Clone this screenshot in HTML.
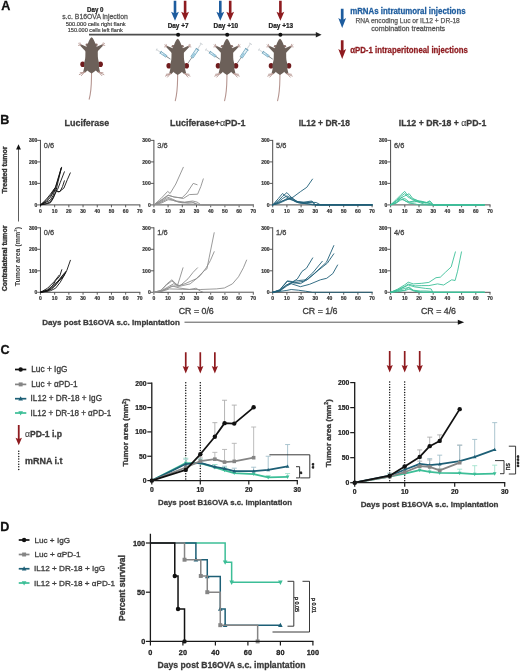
<!DOCTYPE html>
<html lang="en"><head><meta charset="utf-8"><title>Figure</title>
<style>html,body{margin:0;padding:0;background:#fff}svg{display:block;filter:blur(0.4px)}text{font-family:'Liberation Sans', sans-serif}</style>
</head><body>
<svg width="520" height="671" viewBox="0 0 520 671">
<rect width="520" height="671" fill="#fff"/>
<text x="1.3" y="9.9" font-size="12.6" font-weight="bold" fill="#111" stroke="#111" stroke-width="0.28" text-anchor="start" >A</text>
<text x="87.1" y="11.6" font-size="6.6" font-weight="bold" fill="#222" stroke="#222" stroke-width="0.23" text-anchor="start" textLength="16.4" lengthAdjust="spacingAndGlyphs" >Day 0</text>
<text x="62.2" y="19.4" font-size="6.9" font-weight="normal" fill="#555" stroke="#555" stroke-width="0.26" text-anchor="start" textLength="65.6" lengthAdjust="spacingAndGlyphs" >s.c. B16OVA injection</text>
<text x="65.7" y="26" font-size="5.7" font-weight="normal" fill="#444" stroke="#444" stroke-width="0.21" text-anchor="start" textLength="60" lengthAdjust="spacingAndGlyphs" >500.000 cells right flank</text>
<text x="67.7" y="32" font-size="5.6" font-weight="normal" fill="#444" stroke="#444" stroke-width="0.21" text-anchor="start" textLength="55.1" lengthAdjust="spacingAndGlyphs" >150.000 cells left flank</text>
<line x1="89" y1="34.7" x2="317" y2="34.7" stroke="#4d4d4d" stroke-width="1.7"/>
<path d="M315.8,32 L321.6,34.7 L315.8,37.4 Z" fill="#222"/>
<circle cx="178.1" cy="34.7" r="2" fill="#111"/>
<circle cx="227.2" cy="34.7" r="2" fill="#111"/>
<circle cx="280.4" cy="34.7" r="2" fill="#111"/>
<text x="167.7" y="28.2" font-size="6.9" font-weight="bold" fill="#222" stroke="#222" stroke-width="0.24" text-anchor="start" textLength="20.8" lengthAdjust="spacingAndGlyphs" >Day +7</text>
<text x="213.5" y="28.2" font-size="6.9" font-weight="bold" fill="#222" stroke="#222" stroke-width="0.24" text-anchor="start" textLength="24.6" lengthAdjust="spacingAndGlyphs" >Day +10</text>
<text x="268.5" y="28.2" font-size="6.9" font-weight="bold" fill="#222" stroke="#222" stroke-width="0.24" text-anchor="start" textLength="24.6" lengthAdjust="spacingAndGlyphs" >Day +13</text>
<path d="M173.7,0.8 H176.3 V13.00 L178.9,11.80 L175,20.8 L171.1,11.80 L173.7,13.00 Z" fill="#1d5c9e"/>
<path d="M183.79999999999998,0.8 H186.4 V13.00 L189.0,11.80 L185.1,20.8 L181.2,11.80 L183.79999999999998,13.00 Z" fill="#8e1b1f"/>
<path d="M219.0,0.8 H221.60000000000002 V13.00 L224.20000000000002,11.80 L220.3,20.8 L216.4,11.80 L219.0,13.00 Z" fill="#1d5c9e"/>
<path d="M228.89999999999998,0.8 H231.5 V13.00 L234.1,11.80 L230.2,20.8 L226.29999999999998,11.80 L228.89999999999998,13.00 Z" fill="#8e1b1f"/>
<path d="M279.09999999999997,0.8 H281.7 V13.00 L284.29999999999995,11.80 L280.4,20.8 L276.5,11.80 L279.09999999999997,13.00 Z" fill="#8e1b1f"/>
<g transform="translate(91.6,37.2)">
<path d="M0,34 C-0.3,44 0.3,52 -2.4,62" stroke="#b59590" stroke-width="1.1" fill="none" stroke-linecap="round"/>
<path d="M-4,10 L-10.8,7 L-11.6,8.4 L-5.4,14.8 Z" fill="#6c6059"/>
<path d="M4,10 L10.8,7 L11.6,8.4 L5.4,14.8 Z" fill="#6c6059"/>
<path d="M-11,7.8 L-13,6.2 M-11,7.8 L-13.2,8.2 M-11,7.8 L-11.6,5.6" stroke="#b59590" stroke-width="0.8" stroke-linecap="round"/>
<path d="M11,7.8 L13,6.2 M11,7.8 L13.2,8.2 M11,7.8 L11.6,5.6" stroke="#b59590" stroke-width="0.8" stroke-linecap="round"/>
<path d="M-6.6,27 L-4,33 L-6.6,35.6 L-8.4,34.6 Z" fill="#6c6059"/>
<path d="M6.6,27 L4,33 L6.6,35.6 L8.4,34.6 Z" fill="#6c6059"/>
<path d="M-7.2,35 L-12.3,37.4 M-7.2,35 L-11.4,35.6 M-7.2,35 L-10.2,38.4" stroke="#b59590" stroke-width="0.9" stroke-linecap="round"/>
<path d="M7.2,35 L12.3,37.4 M7.2,35 L11.4,35.6 M7.2,35 L10.2,38.4" stroke="#b59590" stroke-width="0.9" stroke-linecap="round"/>
<ellipse cx="-8.9" cy="27" rx="2.4" ry="2.8" fill="#701c1e"/>
<ellipse cx="8.9" cy="27" rx="2.4" ry="2.8" fill="#701c1e"/>
<ellipse cx="-4.6" cy="7.6" rx="1.5" ry="1.2" fill="#8a6f69"/>
<ellipse cx="4.6" cy="7.6" rx="1.5" ry="1.2" fill="#8a6f69"/>
<path d="M0,0 C1.4,0.8 2.6,3 3.6,6 C4.4,8.2 5.8,10 6.1,13 C6.3,16 6.1,18.5 6.4,21 C6.7,23.5 7.7,25.5 7.6,28.3 C7.3,31.6 2.8,34.6 0,36.4 C-2.8,34.6 -7.3,31.6 -7.6,28.3 C-7.7,25.5 -6.7,23.5 -6.4,21 C-6.1,18.5 -6.3,16 -6.1,13 C-5.8,10 -4.4,8.2 -3.6,6 C-2.6,3 -1.4,0.8 0,0 Z" fill="#6c6059"/>
</g>
<g transform="translate(177.7,38.7)">
<path d="M0,34 C-0.3,44 0.3,52 -2.4,62" stroke="#b59590" stroke-width="1.1" fill="none" stroke-linecap="round"/>
<path d="M-4,10 L-10.8,7 L-11.6,8.4 L-5.4,14.8 Z" fill="#6c6059"/>
<path d="M4,10 L10.8,7 L11.6,8.4 L5.4,14.8 Z" fill="#6c6059"/>
<path d="M-11,7.8 L-13,6.2 M-11,7.8 L-13.2,8.2 M-11,7.8 L-11.6,5.6" stroke="#b59590" stroke-width="0.8" stroke-linecap="round"/>
<path d="M11,7.8 L13,6.2 M11,7.8 L13.2,8.2 M11,7.8 L11.6,5.6" stroke="#b59590" stroke-width="0.8" stroke-linecap="round"/>
<path d="M-6.6,27 L-4,33 L-6.6,35.6 L-8.4,34.6 Z" fill="#6c6059"/>
<path d="M6.6,27 L4,33 L6.6,35.6 L8.4,34.6 Z" fill="#6c6059"/>
<path d="M-7.2,35 L-12.3,37.4 M-7.2,35 L-11.4,35.6 M-7.2,35 L-10.2,38.4" stroke="#b59590" stroke-width="0.9" stroke-linecap="round"/>
<path d="M7.2,35 L12.3,37.4 M7.2,35 L11.4,35.6 M7.2,35 L10.2,38.4" stroke="#b59590" stroke-width="0.9" stroke-linecap="round"/>
<ellipse cx="-8.9" cy="27" rx="2.4" ry="2.8" fill="#701c1e"/>
<ellipse cx="8.9" cy="27" rx="2.4" ry="2.8" fill="#701c1e"/>
<ellipse cx="-4.6" cy="7.6" rx="1.5" ry="1.2" fill="#8a6f69"/>
<ellipse cx="4.6" cy="7.6" rx="1.5" ry="1.2" fill="#8a6f69"/>
<path d="M0,0 C1.4,0.8 2.6,3 3.6,6 C4.4,8.2 5.8,10 6.1,13 C6.3,16 6.1,18.5 6.4,21 C6.7,23.5 7.7,25.5 7.6,28.3 C7.3,31.6 2.8,34.6 0,36.4 C-2.8,34.6 -7.3,31.6 -7.6,28.3 C-7.7,25.5 -6.7,23.5 -6.4,21 C-6.1,18.5 -6.3,16 -6.1,13 C-5.8,10 -4.4,8.2 -3.6,6 C-2.6,3 -1.4,0.8 0,0 Z" fill="#6c6059"/>
</g>
<g transform="translate(156.30,49.30) rotate(35.15)">
<rect x="0" y="-1.14" width="0.9" height="2.28" fill="#c9ced2"/>
<rect x="0.9" y="-0.5" width="4.69" height="1" fill="#d5dadd"/>
<rect x="4.86" y="-1.52" width="0.9" height="3.04" fill="#7fa6ba"/>
<rect x="5.38" y="-0.95" width="6.95" height="1.90" fill="#e2f0f6" stroke="#5b98b3" stroke-width="0.65"/>
<rect x="8.68" y="-0.57" width="3.30" height="1.14" fill="#9bcbe0"/>
<rect x="12.33" y="-0.35" width="5.04" height="0.7" fill="#70767a"/>
</g>
<g transform="translate(201.50,43.30) rotate(124.29)">
<rect x="0" y="-1.56" width="0.9" height="3.12" fill="#c9ced2"/>
<rect x="0.9" y="-0.5" width="6.47" height="1" fill="#d5dadd"/>
<rect x="6.71" y="-2.08" width="0.9" height="4.16" fill="#7fa6ba"/>
<rect x="7.43" y="-1.30" width="9.59" height="2.60" fill="#e2f0f6" stroke="#5b98b3" stroke-width="0.65"/>
<rect x="11.98" y="-0.78" width="4.55" height="1.56" fill="#9bcbe0"/>
<rect x="17.01" y="-0.35" width="6.95" height="0.7" fill="#70767a"/>
</g>
<g transform="translate(227,38.7)">
<path d="M0,34 C-0.3,44 0.3,52 -2.4,62" stroke="#b59590" stroke-width="1.1" fill="none" stroke-linecap="round"/>
<path d="M-4,10 L-10.8,7 L-11.6,8.4 L-5.4,14.8 Z" fill="#6c6059"/>
<path d="M4,10 L10.8,7 L11.6,8.4 L5.4,14.8 Z" fill="#6c6059"/>
<path d="M-11,7.8 L-13,6.2 M-11,7.8 L-13.2,8.2 M-11,7.8 L-11.6,5.6" stroke="#b59590" stroke-width="0.8" stroke-linecap="round"/>
<path d="M11,7.8 L13,6.2 M11,7.8 L13.2,8.2 M11,7.8 L11.6,5.6" stroke="#b59590" stroke-width="0.8" stroke-linecap="round"/>
<path d="M-6.6,27 L-4,33 L-6.6,35.6 L-8.4,34.6 Z" fill="#6c6059"/>
<path d="M6.6,27 L4,33 L6.6,35.6 L8.4,34.6 Z" fill="#6c6059"/>
<path d="M-7.2,35 L-12.3,37.4 M-7.2,35 L-11.4,35.6 M-7.2,35 L-10.2,38.4" stroke="#b59590" stroke-width="0.9" stroke-linecap="round"/>
<path d="M7.2,35 L12.3,37.4 M7.2,35 L11.4,35.6 M7.2,35 L10.2,38.4" stroke="#b59590" stroke-width="0.9" stroke-linecap="round"/>
<ellipse cx="-8.9" cy="27" rx="2.4" ry="2.8" fill="#701c1e"/>
<ellipse cx="8.9" cy="27" rx="2.4" ry="2.8" fill="#701c1e"/>
<ellipse cx="-4.6" cy="7.6" rx="1.5" ry="1.2" fill="#8a6f69"/>
<ellipse cx="4.6" cy="7.6" rx="1.5" ry="1.2" fill="#8a6f69"/>
<path d="M0,0 C1.4,0.8 2.6,3 3.6,6 C4.4,8.2 5.8,10 6.1,13 C6.3,16 6.1,18.5 6.4,21 C6.7,23.5 7.7,25.5 7.6,28.3 C7.3,31.6 2.8,34.6 0,36.4 C-2.8,34.6 -7.3,31.6 -7.6,28.3 C-7.7,25.5 -6.7,23.5 -6.4,21 C-6.1,18.5 -6.3,16 -6.1,13 C-5.8,10 -4.4,8.2 -3.6,6 C-2.6,3 -1.4,0.8 0,0 Z" fill="#6c6059"/>
</g>
<g transform="translate(205.60,49.30) rotate(35.15)">
<rect x="0" y="-1.14" width="0.9" height="2.28" fill="#c9ced2"/>
<rect x="0.9" y="-0.5" width="4.69" height="1" fill="#d5dadd"/>
<rect x="4.86" y="-1.52" width="0.9" height="3.04" fill="#7fa6ba"/>
<rect x="5.38" y="-0.95" width="6.95" height="1.90" fill="#e2f0f6" stroke="#5b98b3" stroke-width="0.65"/>
<rect x="8.68" y="-0.57" width="3.30" height="1.14" fill="#9bcbe0"/>
<rect x="12.33" y="-0.35" width="5.04" height="0.7" fill="#70767a"/>
</g>
<g transform="translate(250.80,43.30) rotate(124.29)">
<rect x="0" y="-1.56" width="0.9" height="3.12" fill="#c9ced2"/>
<rect x="0.9" y="-0.5" width="6.47" height="1" fill="#d5dadd"/>
<rect x="6.71" y="-2.08" width="0.9" height="4.16" fill="#7fa6ba"/>
<rect x="7.43" y="-1.30" width="9.59" height="2.60" fill="#e2f0f6" stroke="#5b98b3" stroke-width="0.65"/>
<rect x="11.98" y="-0.78" width="4.55" height="1.56" fill="#9bcbe0"/>
<rect x="17.01" y="-0.35" width="6.95" height="0.7" fill="#70767a"/>
</g>
<g transform="translate(280,38.7)">
<path d="M0,34 C-0.3,44 0.3,52 -2.4,62" stroke="#b59590" stroke-width="1.1" fill="none" stroke-linecap="round"/>
<path d="M-4,10 L-10.8,7 L-11.6,8.4 L-5.4,14.8 Z" fill="#6c6059"/>
<path d="M4,10 L10.8,7 L11.6,8.4 L5.4,14.8 Z" fill="#6c6059"/>
<path d="M-11,7.8 L-13,6.2 M-11,7.8 L-13.2,8.2 M-11,7.8 L-11.6,5.6" stroke="#b59590" stroke-width="0.8" stroke-linecap="round"/>
<path d="M11,7.8 L13,6.2 M11,7.8 L13.2,8.2 M11,7.8 L11.6,5.6" stroke="#b59590" stroke-width="0.8" stroke-linecap="round"/>
<path d="M-6.6,27 L-4,33 L-6.6,35.6 L-8.4,34.6 Z" fill="#6c6059"/>
<path d="M6.6,27 L4,33 L6.6,35.6 L8.4,34.6 Z" fill="#6c6059"/>
<path d="M-7.2,35 L-12.3,37.4 M-7.2,35 L-11.4,35.6 M-7.2,35 L-10.2,38.4" stroke="#b59590" stroke-width="0.9" stroke-linecap="round"/>
<path d="M7.2,35 L12.3,37.4 M7.2,35 L11.4,35.6 M7.2,35 L10.2,38.4" stroke="#b59590" stroke-width="0.9" stroke-linecap="round"/>
<ellipse cx="-8.9" cy="27" rx="2.4" ry="2.8" fill="#701c1e"/>
<ellipse cx="8.9" cy="27" rx="2.4" ry="2.8" fill="#701c1e"/>
<ellipse cx="-4.6" cy="7.6" rx="1.5" ry="1.2" fill="#8a6f69"/>
<ellipse cx="4.6" cy="7.6" rx="1.5" ry="1.2" fill="#8a6f69"/>
<path d="M0,0 C1.4,0.8 2.6,3 3.6,6 C4.4,8.2 5.8,10 6.1,13 C6.3,16 6.1,18.5 6.4,21 C6.7,23.5 7.7,25.5 7.6,28.3 C7.3,31.6 2.8,34.6 0,36.4 C-2.8,34.6 -7.3,31.6 -7.6,28.3 C-7.7,25.5 -6.7,23.5 -6.4,21 C-6.1,18.5 -6.3,16 -6.1,13 C-5.8,10 -4.4,8.2 -3.6,6 C-2.6,3 -1.4,0.8 0,0 Z" fill="#6c6059"/>
</g>
<g transform="translate(258.60,49.30) rotate(35.15)">
<rect x="0" y="-1.14" width="0.9" height="2.28" fill="#c9ced2"/>
<rect x="0.9" y="-0.5" width="4.69" height="1" fill="#d5dadd"/>
<rect x="4.86" y="-1.52" width="0.9" height="3.04" fill="#7fa6ba"/>
<rect x="5.38" y="-0.95" width="6.95" height="1.90" fill="#e2f0f6" stroke="#5b98b3" stroke-width="0.65"/>
<rect x="8.68" y="-0.57" width="3.30" height="1.14" fill="#9bcbe0"/>
<rect x="12.33" y="-0.35" width="5.04" height="0.7" fill="#70767a"/>
</g>
<path d="M340.84999999999997,8.7 H343.55 V19.40 L346.09999999999997,18.10 L342.2,28.1 L338.3,18.10 L340.84999999999997,19.40 Z" fill="#1d5c9e"/>
<path d="M340.84999999999997,40.2 H343.55 V50.40 L346.09999999999997,49.10 L342.2,59.1 L338.3,49.10 L340.84999999999997,50.40 Z" fill="#8e1b1f"/>
<text x="350.2" y="14.4" font-size="8.5" font-weight="bold" fill="#1d5c9e" stroke="#1d5c9e" stroke-width="0.28" text-anchor="start" textLength="115.4" lengthAdjust="spacingAndGlyphs" >mRNAs intratumoral injections</text>
<text x="355.4" y="23" font-size="6.6" font-weight="normal" fill="#555" stroke="#555" stroke-width="0.25" text-anchor="start" textLength="104.4" lengthAdjust="spacingAndGlyphs" >RNA encoding Luc or IL12 + DR-18</text>
<text x="371.2" y="30.6" font-size="6.9" font-weight="normal" fill="#555" stroke="#555" stroke-width="0.26" text-anchor="start" textLength="74" lengthAdjust="spacingAndGlyphs" >combination treatments</text>
<text x="350.2" y="52.6" font-size="8.5" font-weight="bold" fill="#8e1b1f" stroke="#8e1b1f" stroke-width="0.28" text-anchor="start" textLength="117.7" lengthAdjust="spacingAndGlyphs" >αPD-1 intraperitoneal injections</text>
<text x="0.3" y="124.4" font-size="12.6" font-weight="bold" fill="#111" stroke="#111" stroke-width="0.28" text-anchor="start" >B</text>
<text x="64.5" y="125.6" font-size="8.8" font-weight="bold" fill="#3a3a3a" stroke="#3a3a3a" stroke-width="0.28" text-anchor="start" textLength="44.75" lengthAdjust="spacingAndGlyphs" >Luciferase</text>
<text x="170" y="125.6" font-size="8.8" font-weight="bold" fill="#3a3a3a" stroke="#3a3a3a" stroke-width="0.28" text-anchor="start" textLength="75.5" lengthAdjust="spacingAndGlyphs" >Luciferase+<tspan font-weight="normal" stroke-width="0.1">α</tspan>PD-1</text>
<text x="298.75" y="125.6" font-size="8.8" font-weight="bold" fill="#3a3a3a" stroke="#3a3a3a" stroke-width="0.28" text-anchor="start" textLength="51.25" lengthAdjust="spacingAndGlyphs" >IL12 + DR-18</text>
<text x="398.75" y="125.6" font-size="8.8" font-weight="bold" fill="#3a3a3a" stroke="#3a3a3a" stroke-width="0.28" text-anchor="start" textLength="87.5" lengthAdjust="spacingAndGlyphs" >IL12 + DR-18 + <tspan font-weight="normal" stroke-width="0.1">α</tspan>PD-1</text>
<text transform="translate(6.9,169.9) rotate(-90)" font-size="7" font-weight="bold" fill="#333" stroke="#333" stroke-width="0.35" text-anchor="middle" textLength="47" lengthAdjust="spacingAndGlyphs">Treated tumor</text>
<text transform="translate(7.0,258.4) rotate(-90)" font-size="7" font-weight="bold" fill="#333" stroke="#333" stroke-width="0.35" text-anchor="middle" textLength="65.75" lengthAdjust="spacingAndGlyphs">Contralateral tumor</text>
<text transform="translate(20,256.6) rotate(-90)" font-size="7" font-weight="bold" fill="#3a3a3a" text-anchor="middle" textLength="59.5" lengthAdjust="spacingAndGlyphs">Tumor area (mm<tspan font-size="4.4" dy="-2.6">2</tspan><tspan dy="2.6">)</tspan></text>
<line x1="18.5" y1="221.5" x2="18.5" y2="149" stroke="#333" stroke-width="0.8"/>
<path d="M16.1,149.6 L18.5,144.2 L20.9,149.6 Z" fill="#111"/>
<path d="M40.45,139.9 V204.9 H140.35000000000002" stroke="#4a4a4a" stroke-width="1" fill="none"/>
<line x1="40.45" y1="204.9" x2="40.45" y2="207.3" stroke="#4a4a4a" stroke-width="0.9"/>
<text x="40.45" y="212.8" font-size="5" font-weight="bold" fill="#333" stroke="#333" stroke-width="0.18" text-anchor="middle" >0</text>
<line x1="54.65" y1="204.9" x2="54.65" y2="207.3" stroke="#4a4a4a" stroke-width="0.9"/>
<text x="54.65" y="212.8" font-size="5" font-weight="bold" fill="#333" stroke="#333" stroke-width="0.18" text-anchor="middle" >10</text>
<line x1="68.85" y1="204.9" x2="68.85" y2="207.3" stroke="#4a4a4a" stroke-width="0.9"/>
<text x="68.85" y="212.8" font-size="5" font-weight="bold" fill="#333" stroke="#333" stroke-width="0.18" text-anchor="middle" >20</text>
<line x1="83.05" y1="204.9" x2="83.05" y2="207.3" stroke="#4a4a4a" stroke-width="0.9"/>
<text x="83.05" y="212.8" font-size="5" font-weight="bold" fill="#333" stroke="#333" stroke-width="0.18" text-anchor="middle" >30</text>
<line x1="97.25" y1="204.9" x2="97.25" y2="207.3" stroke="#4a4a4a" stroke-width="0.9"/>
<text x="97.25" y="212.8" font-size="5" font-weight="bold" fill="#333" stroke="#333" stroke-width="0.18" text-anchor="middle" >40</text>
<line x1="111.45" y1="204.9" x2="111.45" y2="207.3" stroke="#4a4a4a" stroke-width="0.9"/>
<text x="111.45" y="212.8" font-size="5" font-weight="bold" fill="#333" stroke="#333" stroke-width="0.18" text-anchor="middle" >50</text>
<line x1="125.65" y1="204.9" x2="125.65" y2="207.3" stroke="#4a4a4a" stroke-width="0.9"/>
<text x="125.65" y="212.8" font-size="5" font-weight="bold" fill="#333" stroke="#333" stroke-width="0.18" text-anchor="middle" >60</text>
<line x1="139.85" y1="204.9" x2="139.85" y2="207.3" stroke="#4a4a4a" stroke-width="0.9"/>
<text x="139.85" y="212.8" font-size="5" font-weight="bold" fill="#333" stroke="#333" stroke-width="0.18" text-anchor="middle" >70</text>
<line x1="37.25" y1="204.90" x2="40.45" y2="204.90" stroke="#4a4a4a" stroke-width="0.9"/>
<text x="37.25" y="206.70" font-size="5" font-weight="bold" fill="#333" stroke="#333" stroke-width="0.18" text-anchor="end" >0</text>
<line x1="37.25" y1="183.40" x2="40.45" y2="183.40" stroke="#4a4a4a" stroke-width="0.9"/>
<text x="37.25" y="185.20" font-size="5" font-weight="bold" fill="#333" stroke="#333" stroke-width="0.18" text-anchor="end" >100</text>
<line x1="37.25" y1="161.90" x2="40.45" y2="161.90" stroke="#4a4a4a" stroke-width="0.9"/>
<text x="37.25" y="163.70" font-size="5" font-weight="bold" fill="#333" stroke="#333" stroke-width="0.18" text-anchor="end" >200</text>
<line x1="37.25" y1="140.40" x2="40.45" y2="140.40" stroke="#4a4a4a" stroke-width="0.9"/>
<text x="37.25" y="142.20" font-size="5" font-weight="bold" fill="#333" stroke="#333" stroke-width="0.18" text-anchor="end" >300</text>
<path d="M40.5,204.9 L46.1,199.5 L50.4,194.2 L55.4,187.3 L58.2,178.0 L61.5,167.9" stroke="#111111" stroke-width="0.9" fill="none" stroke-linejoin="round" stroke-linecap="round"/>
<path d="M40.5,204.9 L46.1,202.3 L50.4,200.2 L53.2,195.2 L55.6,187.7 L58.2,179.1 L61.0,168.4" stroke="#111111" stroke-width="0.9" fill="none" stroke-linejoin="round" stroke-linecap="round"/>
<path d="M40.5,204.9 L46.1,204.0 L50.4,202.8 L53.2,198.5 L55.6,192.4 L58.2,181.2 L61.5,167.3" stroke="#111111" stroke-width="0.9" fill="none" stroke-linejoin="round" stroke-linecap="round"/>
<path d="M40.5,204.9 L46.1,200.6 L50.4,195.9 L55.2,187.7 L57.6,189.4 L60.3,182.3 L64.4,171.8" stroke="#111111" stroke-width="0.9" fill="none" stroke-linejoin="round" stroke-linecap="round"/>
<path d="M40.5,204.9 L46.1,201.7 L50.4,197.4 L54.7,189.8 L57.5,190.9 L58.9,192.0 L63.9,188.1 L67.4,179.5 L70.3,172.9" stroke="#111111" stroke-width="0.9" fill="none" stroke-linejoin="round" stroke-linecap="round"/>
<path d="M40.5,204.9 L46.1,203.6 L50.4,201.9 L53.2,197.4 L56.1,191.6 L60.0,191.6 L62.5,186.6 L64.4,180.8" stroke="#111111" stroke-width="0.9" fill="none" stroke-linejoin="round" stroke-linecap="round"/>
<text x="43.85" y="148.0" font-size="7.8" font-weight="normal" fill="#444" stroke="#444" stroke-width="0.29" text-anchor="start" textLength="10.3" lengthAdjust="spacingAndGlyphs" >0/6</text>
<path d="M153.9,139.9 V204.9 H253.8" stroke="#4a4a4a" stroke-width="1" fill="none"/>
<line x1="153.90" y1="204.9" x2="153.90" y2="207.3" stroke="#4a4a4a" stroke-width="0.9"/>
<text x="153.90" y="212.8" font-size="5" font-weight="bold" fill="#333" stroke="#333" stroke-width="0.18" text-anchor="middle" >0</text>
<line x1="168.10" y1="204.9" x2="168.10" y2="207.3" stroke="#4a4a4a" stroke-width="0.9"/>
<text x="168.10" y="212.8" font-size="5" font-weight="bold" fill="#333" stroke="#333" stroke-width="0.18" text-anchor="middle" >10</text>
<line x1="182.30" y1="204.9" x2="182.30" y2="207.3" stroke="#4a4a4a" stroke-width="0.9"/>
<text x="182.30" y="212.8" font-size="5" font-weight="bold" fill="#333" stroke="#333" stroke-width="0.18" text-anchor="middle" >20</text>
<line x1="196.50" y1="204.9" x2="196.50" y2="207.3" stroke="#4a4a4a" stroke-width="0.9"/>
<text x="196.50" y="212.8" font-size="5" font-weight="bold" fill="#333" stroke="#333" stroke-width="0.18" text-anchor="middle" >30</text>
<line x1="210.70" y1="204.9" x2="210.70" y2="207.3" stroke="#4a4a4a" stroke-width="0.9"/>
<text x="210.70" y="212.8" font-size="5" font-weight="bold" fill="#333" stroke="#333" stroke-width="0.18" text-anchor="middle" >40</text>
<line x1="224.90" y1="204.9" x2="224.90" y2="207.3" stroke="#4a4a4a" stroke-width="0.9"/>
<text x="224.90" y="212.8" font-size="5" font-weight="bold" fill="#333" stroke="#333" stroke-width="0.18" text-anchor="middle" >50</text>
<line x1="239.10" y1="204.9" x2="239.10" y2="207.3" stroke="#4a4a4a" stroke-width="0.9"/>
<text x="239.10" y="212.8" font-size="5" font-weight="bold" fill="#333" stroke="#333" stroke-width="0.18" text-anchor="middle" >60</text>
<line x1="253.30" y1="204.9" x2="253.30" y2="207.3" stroke="#4a4a4a" stroke-width="0.9"/>
<text x="253.30" y="212.8" font-size="5" font-weight="bold" fill="#333" stroke="#333" stroke-width="0.18" text-anchor="middle" >70</text>
<line x1="150.70000000000002" y1="204.90" x2="153.9" y2="204.90" stroke="#4a4a4a" stroke-width="0.9"/>
<text x="150.70000000000002" y="206.70" font-size="5" font-weight="bold" fill="#333" stroke="#333" stroke-width="0.18" text-anchor="end" >0</text>
<line x1="150.70000000000002" y1="183.40" x2="153.9" y2="183.40" stroke="#4a4a4a" stroke-width="0.9"/>
<text x="150.70000000000002" y="185.20" font-size="5" font-weight="bold" fill="#333" stroke="#333" stroke-width="0.18" text-anchor="end" >100</text>
<line x1="150.70000000000002" y1="161.90" x2="153.9" y2="161.90" stroke="#4a4a4a" stroke-width="0.9"/>
<text x="150.70000000000002" y="163.70" font-size="5" font-weight="bold" fill="#333" stroke="#333" stroke-width="0.18" text-anchor="end" >200</text>
<line x1="150.70000000000002" y1="140.40" x2="153.9" y2="140.40" stroke="#4a4a4a" stroke-width="0.9"/>
<text x="150.70000000000002" y="142.20" font-size="5" font-weight="bold" fill="#333" stroke="#333" stroke-width="0.18" text-anchor="end" >300</text>
<path d="M153.9,204.9 L161.0,198.5 L167.7,191.4 L170.1,193.5 L175.8,184.0 L183.3,167.3" stroke="#8e8e8e" stroke-width="0.9" fill="none" stroke-linejoin="round" stroke-linecap="round"/>
<path d="M153.9,204.9 L161.0,200.2 L168.1,195.0 L174.5,197.2 L182.0,197.8 L187.0,192.9 L193.2,183.4 L197.1,184.7" stroke="#8e8e8e" stroke-width="0.9" fill="none" stroke-linejoin="round" stroke-linecap="round"/>
<path d="M153.9,204.9 L161.0,200.6 L168.1,195.4 L173.2,196.7 L183.3,198.5 L189.4,194.6 L197.6,194.2 L200.8,186.6 L203.3,178.9" stroke="#8e8e8e" stroke-width="0.9" fill="none" stroke-linejoin="round" stroke-linecap="round"/>
<path d="M153.9,204.9 L161.0,201.5 L167.7,197.2 L170.9,198.5 L176.6,201.0 L184.6,202.1 L192.7,201.0 L197.1,202.1 L200.8,204.7 L202.2,204.9 L253.3,204.9" stroke="#8e8e8e" stroke-width="0.9" fill="none" stroke-linejoin="round" stroke-linecap="round"/>
<path d="M153.9,204.9 L161.0,202.3 L168.1,198.5 L173.8,200.6 L182.0,202.8 L192.0,201.9 L195.8,204.0 L197.9,204.9 L253.3,204.9" stroke="#8e8e8e" stroke-width="0.9" fill="none" stroke-linejoin="round" stroke-linecap="round"/>
<path d="M153.9,204.9 L162.0,202.8 L168.1,199.7 L172.4,200.2 L179.5,202.3 L188.0,203.2 L193.7,202.8 L197.9,204.3 L199.3,204.9 L253.3,204.9" stroke="#8e8e8e" stroke-width="0.9" fill="none" stroke-linejoin="round" stroke-linecap="round"/>
<text x="157.3" y="148.0" font-size="7.8" font-weight="normal" fill="#444" stroke="#444" stroke-width="0.29" text-anchor="start" textLength="10.3" lengthAdjust="spacingAndGlyphs" >3/6</text>
<path d="M272.7,139.9 V204.9 H372.6" stroke="#4a4a4a" stroke-width="1" fill="none"/>
<line x1="272.70" y1="204.9" x2="272.70" y2="207.3" stroke="#4a4a4a" stroke-width="0.9"/>
<text x="272.70" y="212.8" font-size="5" font-weight="bold" fill="#333" stroke="#333" stroke-width="0.18" text-anchor="middle" >0</text>
<line x1="286.90" y1="204.9" x2="286.90" y2="207.3" stroke="#4a4a4a" stroke-width="0.9"/>
<text x="286.90" y="212.8" font-size="5" font-weight="bold" fill="#333" stroke="#333" stroke-width="0.18" text-anchor="middle" >10</text>
<line x1="301.10" y1="204.9" x2="301.10" y2="207.3" stroke="#4a4a4a" stroke-width="0.9"/>
<text x="301.10" y="212.8" font-size="5" font-weight="bold" fill="#333" stroke="#333" stroke-width="0.18" text-anchor="middle" >20</text>
<line x1="315.30" y1="204.9" x2="315.30" y2="207.3" stroke="#4a4a4a" stroke-width="0.9"/>
<text x="315.30" y="212.8" font-size="5" font-weight="bold" fill="#333" stroke="#333" stroke-width="0.18" text-anchor="middle" >30</text>
<line x1="329.50" y1="204.9" x2="329.50" y2="207.3" stroke="#4a4a4a" stroke-width="0.9"/>
<text x="329.50" y="212.8" font-size="5" font-weight="bold" fill="#333" stroke="#333" stroke-width="0.18" text-anchor="middle" >40</text>
<line x1="343.70" y1="204.9" x2="343.70" y2="207.3" stroke="#4a4a4a" stroke-width="0.9"/>
<text x="343.70" y="212.8" font-size="5" font-weight="bold" fill="#333" stroke="#333" stroke-width="0.18" text-anchor="middle" >50</text>
<line x1="357.90" y1="204.9" x2="357.90" y2="207.3" stroke="#4a4a4a" stroke-width="0.9"/>
<text x="357.90" y="212.8" font-size="5" font-weight="bold" fill="#333" stroke="#333" stroke-width="0.18" text-anchor="middle" >60</text>
<line x1="372.10" y1="204.9" x2="372.10" y2="207.3" stroke="#4a4a4a" stroke-width="0.9"/>
<text x="372.10" y="212.8" font-size="5" font-weight="bold" fill="#333" stroke="#333" stroke-width="0.18" text-anchor="middle" >70</text>
<line x1="269.5" y1="204.90" x2="272.7" y2="204.90" stroke="#4a4a4a" stroke-width="0.9"/>
<text x="269.5" y="206.70" font-size="5" font-weight="bold" fill="#333" stroke="#333" stroke-width="0.18" text-anchor="end" >0</text>
<line x1="269.5" y1="183.40" x2="272.7" y2="183.40" stroke="#4a4a4a" stroke-width="0.9"/>
<text x="269.5" y="185.20" font-size="5" font-weight="bold" fill="#333" stroke="#333" stroke-width="0.18" text-anchor="end" >100</text>
<line x1="269.5" y1="161.90" x2="272.7" y2="161.90" stroke="#4a4a4a" stroke-width="0.9"/>
<text x="269.5" y="163.70" font-size="5" font-weight="bold" fill="#333" stroke="#333" stroke-width="0.18" text-anchor="end" >200</text>
<line x1="269.5" y1="140.40" x2="272.7" y2="140.40" stroke="#4a4a4a" stroke-width="0.9"/>
<text x="269.5" y="142.20" font-size="5" font-weight="bold" fill="#333" stroke="#333" stroke-width="0.18" text-anchor="end" >300</text>
<path d="M272.7,204.9 L280.5,201.5 L288.0,199.1 L293.0,197.2 L300.5,191.6 L306.8,187.3 L312.5,179.1" stroke="#1f5f78" stroke-width="0.9" fill="none" stroke-linejoin="round" stroke-linecap="round"/>
<path d="M272.7,204.9 L278.4,198.5 L282.5,193.5 L286.9,197.2 L293.0,200.4 L298.3,202.3 L306.8,202.8 L312.5,201.7 L315.3,204.9 L372.1,204.9" stroke="#1f5f78" stroke-width="0.9" fill="none" stroke-linejoin="round" stroke-linecap="round"/>
<path d="M272.7,204.9 L278.4,200.6 L282.6,196.3 L286.9,192.6 L291.2,197.2 L296.8,201.5 L303.9,202.1 L311.8,201.0 L314.9,204.7 L315.3,204.9 L372.1,204.9" stroke="#1f5f78" stroke-width="0.9" fill="none" stroke-linejoin="round" stroke-linecap="round"/>
<path d="M272.7,204.9 L278.4,201.9 L282.6,198.5 L286.9,195.9 L294.3,199.7 L298.3,201.9 L303.9,202.8 L312.5,202.3 L316.2,202.5 L320.6,204.9 L372.1,204.9" stroke="#1f5f78" stroke-width="0.9" fill="none" stroke-linejoin="round" stroke-linecap="round"/>
<path d="M272.7,204.9 L278.4,203.2 L282.6,201.0 L286.9,198.5 L292.6,200.2 L298.3,202.8 L306.8,203.8 L312.5,204.3 L316.7,204.9 L372.1,204.9" stroke="#1f5f78" stroke-width="0.9" fill="none" stroke-linejoin="round" stroke-linecap="round"/>
<path d="M272.7,204.9 L278.4,203.6 L285.5,200.4 L291.2,198.0 L295.4,201.7 L301.1,203.2 L308.2,203.8 L312.5,204.9 L372.1,204.9" stroke="#1f5f78" stroke-width="0.9" fill="none" stroke-linejoin="round" stroke-linecap="round"/>
<text x="276.09999999999997" y="148.0" font-size="7.8" font-weight="normal" fill="#444" stroke="#444" stroke-width="0.29" text-anchor="start" textLength="10.3" lengthAdjust="spacingAndGlyphs" >5/6</text>
<path d="M390.6,139.9 V204.9 H490.5" stroke="#4a4a4a" stroke-width="1" fill="none"/>
<line x1="390.60" y1="204.9" x2="390.60" y2="207.3" stroke="#4a4a4a" stroke-width="0.9"/>
<text x="390.60" y="212.8" font-size="5" font-weight="bold" fill="#333" stroke="#333" stroke-width="0.18" text-anchor="middle" >0</text>
<line x1="404.80" y1="204.9" x2="404.80" y2="207.3" stroke="#4a4a4a" stroke-width="0.9"/>
<text x="404.80" y="212.8" font-size="5" font-weight="bold" fill="#333" stroke="#333" stroke-width="0.18" text-anchor="middle" >10</text>
<line x1="419.00" y1="204.9" x2="419.00" y2="207.3" stroke="#4a4a4a" stroke-width="0.9"/>
<text x="419.00" y="212.8" font-size="5" font-weight="bold" fill="#333" stroke="#333" stroke-width="0.18" text-anchor="middle" >20</text>
<line x1="433.20" y1="204.9" x2="433.20" y2="207.3" stroke="#4a4a4a" stroke-width="0.9"/>
<text x="433.20" y="212.8" font-size="5" font-weight="bold" fill="#333" stroke="#333" stroke-width="0.18" text-anchor="middle" >30</text>
<line x1="447.40" y1="204.9" x2="447.40" y2="207.3" stroke="#4a4a4a" stroke-width="0.9"/>
<text x="447.40" y="212.8" font-size="5" font-weight="bold" fill="#333" stroke="#333" stroke-width="0.18" text-anchor="middle" >40</text>
<line x1="461.60" y1="204.9" x2="461.60" y2="207.3" stroke="#4a4a4a" stroke-width="0.9"/>
<text x="461.60" y="212.8" font-size="5" font-weight="bold" fill="#333" stroke="#333" stroke-width="0.18" text-anchor="middle" >50</text>
<line x1="475.80" y1="204.9" x2="475.80" y2="207.3" stroke="#4a4a4a" stroke-width="0.9"/>
<text x="475.80" y="212.8" font-size="5" font-weight="bold" fill="#333" stroke="#333" stroke-width="0.18" text-anchor="middle" >60</text>
<line x1="490.00" y1="204.9" x2="490.00" y2="207.3" stroke="#4a4a4a" stroke-width="0.9"/>
<text x="490.00" y="212.8" font-size="5" font-weight="bold" fill="#333" stroke="#333" stroke-width="0.18" text-anchor="middle" >70</text>
<line x1="387.40000000000003" y1="204.90" x2="390.6" y2="204.90" stroke="#4a4a4a" stroke-width="0.9"/>
<text x="387.40000000000003" y="206.70" font-size="5" font-weight="bold" fill="#333" stroke="#333" stroke-width="0.18" text-anchor="end" >0</text>
<line x1="387.40000000000003" y1="183.40" x2="390.6" y2="183.40" stroke="#4a4a4a" stroke-width="0.9"/>
<text x="387.40000000000003" y="185.20" font-size="5" font-weight="bold" fill="#333" stroke="#333" stroke-width="0.18" text-anchor="end" >100</text>
<line x1="387.40000000000003" y1="161.90" x2="390.6" y2="161.90" stroke="#4a4a4a" stroke-width="0.9"/>
<text x="387.40000000000003" y="163.70" font-size="5" font-weight="bold" fill="#333" stroke="#333" stroke-width="0.18" text-anchor="end" >200</text>
<line x1="387.40000000000003" y1="140.40" x2="390.6" y2="140.40" stroke="#4a4a4a" stroke-width="0.9"/>
<text x="387.40000000000003" y="142.20" font-size="5" font-weight="bold" fill="#333" stroke="#333" stroke-width="0.18" text-anchor="end" >300</text>
<path d="M390.6,204.9 L396.3,199.5 L400.5,195.2 L404.7,191.4 L407.6,195.2 L412.8,199.1 L419.0,201.2 L426.1,202.8 L429.7,200.8 L433.2,204.9 L484.3,204.9" stroke="#3dbf98" stroke-width="0.9" fill="none" stroke-linejoin="round" stroke-linecap="round"/>
<path d="M390.6,204.9 L396.3,201.0 L400.5,198.0 L404.8,195.9 L409.1,193.7 L412.8,198.5 L420.4,201.7 L426.1,202.8 L430.4,201.5 L433.2,204.9 L484.3,204.9" stroke="#3dbf98" stroke-width="0.9" fill="none" stroke-linejoin="round" stroke-linecap="round"/>
<path d="M390.6,204.9 L396.3,200.6 L400.5,196.7 L404.8,193.5 L407.6,196.7 L413.3,200.2 L419.0,201.7 L424.7,202.8 L430.4,203.2 L433.2,204.9 L484.3,204.9" stroke="#3dbf98" stroke-width="0.9" fill="none" stroke-linejoin="round" stroke-linecap="round"/>
<path d="M390.6,204.9 L396.3,202.3 L402.0,197.2 L404.8,200.8 L409.1,202.3 L414.7,201.9 L420.4,201.0 L426.1,202.3 L430.4,203.8 L433.2,204.9 L484.3,204.9" stroke="#3dbf98" stroke-width="0.9" fill="none" stroke-linejoin="round" stroke-linecap="round"/>
<path d="M390.6,204.9 L396.3,202.8 L400.5,200.2 L404.8,198.5 L409.1,201.9 L414.7,201.0 L420.4,202.8 L424.7,204.3 L428.9,204.9 L484.3,204.9" stroke="#3dbf98" stroke-width="0.9" fill="none" stroke-linejoin="round" stroke-linecap="round"/>
<path d="M390.6,204.9 L396.3,203.2 L400.5,198.9 L404.8,200.6 L409.1,203.2 L414.7,203.8 L418.6,204.9 L484.3,204.9" stroke="#3dbf98" stroke-width="0.9" fill="none" stroke-linejoin="round" stroke-linecap="round"/>
<text x="394.0" y="148.0" font-size="7.8" font-weight="normal" fill="#444" stroke="#444" stroke-width="0.29" text-anchor="start" textLength="10.3" lengthAdjust="spacingAndGlyphs" >6/6</text>
<path d="M40.45,227.3 V292.3 H140.35000000000002" stroke="#4a4a4a" stroke-width="1" fill="none"/>
<line x1="40.45" y1="292.3" x2="40.45" y2="294.7" stroke="#4a4a4a" stroke-width="0.9"/>
<text x="40.45" y="300.2" font-size="5" font-weight="bold" fill="#333" stroke="#333" stroke-width="0.18" text-anchor="middle" >0</text>
<line x1="54.65" y1="292.3" x2="54.65" y2="294.7" stroke="#4a4a4a" stroke-width="0.9"/>
<text x="54.65" y="300.2" font-size="5" font-weight="bold" fill="#333" stroke="#333" stroke-width="0.18" text-anchor="middle" >10</text>
<line x1="68.85" y1="292.3" x2="68.85" y2="294.7" stroke="#4a4a4a" stroke-width="0.9"/>
<text x="68.85" y="300.2" font-size="5" font-weight="bold" fill="#333" stroke="#333" stroke-width="0.18" text-anchor="middle" >20</text>
<line x1="83.05" y1="292.3" x2="83.05" y2="294.7" stroke="#4a4a4a" stroke-width="0.9"/>
<text x="83.05" y="300.2" font-size="5" font-weight="bold" fill="#333" stroke="#333" stroke-width="0.18" text-anchor="middle" >30</text>
<line x1="97.25" y1="292.3" x2="97.25" y2="294.7" stroke="#4a4a4a" stroke-width="0.9"/>
<text x="97.25" y="300.2" font-size="5" font-weight="bold" fill="#333" stroke="#333" stroke-width="0.18" text-anchor="middle" >40</text>
<line x1="111.45" y1="292.3" x2="111.45" y2="294.7" stroke="#4a4a4a" stroke-width="0.9"/>
<text x="111.45" y="300.2" font-size="5" font-weight="bold" fill="#333" stroke="#333" stroke-width="0.18" text-anchor="middle" >50</text>
<line x1="125.65" y1="292.3" x2="125.65" y2="294.7" stroke="#4a4a4a" stroke-width="0.9"/>
<text x="125.65" y="300.2" font-size="5" font-weight="bold" fill="#333" stroke="#333" stroke-width="0.18" text-anchor="middle" >60</text>
<line x1="139.85" y1="292.3" x2="139.85" y2="294.7" stroke="#4a4a4a" stroke-width="0.9"/>
<text x="139.85" y="300.2" font-size="5" font-weight="bold" fill="#333" stroke="#333" stroke-width="0.18" text-anchor="middle" >70</text>
<line x1="37.25" y1="292.30" x2="40.45" y2="292.30" stroke="#4a4a4a" stroke-width="0.9"/>
<text x="37.25" y="294.10" font-size="5" font-weight="bold" fill="#333" stroke="#333" stroke-width="0.18" text-anchor="end" >0</text>
<line x1="37.25" y1="270.80" x2="40.45" y2="270.80" stroke="#4a4a4a" stroke-width="0.9"/>
<text x="37.25" y="272.60" font-size="5" font-weight="bold" fill="#333" stroke="#333" stroke-width="0.18" text-anchor="end" >100</text>
<line x1="37.25" y1="249.30" x2="40.45" y2="249.30" stroke="#4a4a4a" stroke-width="0.9"/>
<text x="37.25" y="251.10" font-size="5" font-weight="bold" fill="#333" stroke="#333" stroke-width="0.18" text-anchor="end" >200</text>
<line x1="37.25" y1="227.80" x2="40.45" y2="227.80" stroke="#4a4a4a" stroke-width="0.9"/>
<text x="37.25" y="229.60" font-size="5" font-weight="bold" fill="#333" stroke="#333" stroke-width="0.18" text-anchor="end" >300</text>
<path d="M40.5,292.3 L47.6,288.2 L54.2,281.6 L59.1,275.3" stroke="#111111" stroke-width="0.9" fill="none" stroke-linejoin="round" stroke-linecap="round"/>
<path d="M40.5,292.3 L47.6,290.2 L51.8,286.9 L55.6,280.7 L59.6,276.4 L61.8,269.7" stroke="#111111" stroke-width="0.9" fill="none" stroke-linejoin="round" stroke-linecap="round"/>
<path d="M40.5,292.3 L47.6,291.0 L51.8,288.9 L56.1,284.8 L60.3,279.0 L64.4,273.8" stroke="#111111" stroke-width="0.9" fill="none" stroke-linejoin="round" stroke-linecap="round"/>
<path d="M40.5,292.3 L47.6,289.7 L51.8,286.3 L56.1,282.8 L60.3,279.8 L63.2,276.8 L65.6,272.5" stroke="#111111" stroke-width="0.9" fill="none" stroke-linejoin="round" stroke-linecap="round"/>
<path d="M40.5,292.3 L50.4,290.8 L55.6,288.2 L60.0,282.6 L63.9,276.0 L66.9,270.2 L70.4,260.3" stroke="#111111" stroke-width="0.9" fill="none" stroke-linejoin="round" stroke-linecap="round"/>
<path d="M40.5,292.3 L47.6,290.6 L51.8,288.0 L56.1,283.7 L60.3,278.1 L64.6,272.9 L66.0,271.4" stroke="#111111" stroke-width="0.9" fill="none" stroke-linejoin="round" stroke-linecap="round"/>
<text x="43.85" y="235.4" font-size="7.8" font-weight="normal" fill="#444" stroke="#444" stroke-width="0.29" text-anchor="start" textLength="10.3" lengthAdjust="spacingAndGlyphs" >0/6</text>
<path d="M153.9,227.3 V292.3 H253.8" stroke="#4a4a4a" stroke-width="1" fill="none"/>
<line x1="153.90" y1="292.3" x2="153.90" y2="294.7" stroke="#4a4a4a" stroke-width="0.9"/>
<text x="153.90" y="300.2" font-size="5" font-weight="bold" fill="#333" stroke="#333" stroke-width="0.18" text-anchor="middle" >0</text>
<line x1="168.10" y1="292.3" x2="168.10" y2="294.7" stroke="#4a4a4a" stroke-width="0.9"/>
<text x="168.10" y="300.2" font-size="5" font-weight="bold" fill="#333" stroke="#333" stroke-width="0.18" text-anchor="middle" >10</text>
<line x1="182.30" y1="292.3" x2="182.30" y2="294.7" stroke="#4a4a4a" stroke-width="0.9"/>
<text x="182.30" y="300.2" font-size="5" font-weight="bold" fill="#333" stroke="#333" stroke-width="0.18" text-anchor="middle" >20</text>
<line x1="196.50" y1="292.3" x2="196.50" y2="294.7" stroke="#4a4a4a" stroke-width="0.9"/>
<text x="196.50" y="300.2" font-size="5" font-weight="bold" fill="#333" stroke="#333" stroke-width="0.18" text-anchor="middle" >30</text>
<line x1="210.70" y1="292.3" x2="210.70" y2="294.7" stroke="#4a4a4a" stroke-width="0.9"/>
<text x="210.70" y="300.2" font-size="5" font-weight="bold" fill="#333" stroke="#333" stroke-width="0.18" text-anchor="middle" >40</text>
<line x1="224.90" y1="292.3" x2="224.90" y2="294.7" stroke="#4a4a4a" stroke-width="0.9"/>
<text x="224.90" y="300.2" font-size="5" font-weight="bold" fill="#333" stroke="#333" stroke-width="0.18" text-anchor="middle" >50</text>
<line x1="239.10" y1="292.3" x2="239.10" y2="294.7" stroke="#4a4a4a" stroke-width="0.9"/>
<text x="239.10" y="300.2" font-size="5" font-weight="bold" fill="#333" stroke="#333" stroke-width="0.18" text-anchor="middle" >60</text>
<line x1="253.30" y1="292.3" x2="253.30" y2="294.7" stroke="#4a4a4a" stroke-width="0.9"/>
<text x="253.30" y="300.2" font-size="5" font-weight="bold" fill="#333" stroke="#333" stroke-width="0.18" text-anchor="middle" >70</text>
<line x1="150.70000000000002" y1="292.30" x2="153.9" y2="292.30" stroke="#4a4a4a" stroke-width="0.9"/>
<text x="150.70000000000002" y="294.10" font-size="5" font-weight="bold" fill="#333" stroke="#333" stroke-width="0.18" text-anchor="end" >0</text>
<line x1="150.70000000000002" y1="270.80" x2="153.9" y2="270.80" stroke="#4a4a4a" stroke-width="0.9"/>
<text x="150.70000000000002" y="272.60" font-size="5" font-weight="bold" fill="#333" stroke="#333" stroke-width="0.18" text-anchor="end" >100</text>
<line x1="150.70000000000002" y1="249.30" x2="153.9" y2="249.30" stroke="#4a4a4a" stroke-width="0.9"/>
<text x="150.70000000000002" y="251.10" font-size="5" font-weight="bold" fill="#333" stroke="#333" stroke-width="0.18" text-anchor="end" >200</text>
<line x1="150.70000000000002" y1="227.80" x2="153.9" y2="227.80" stroke="#4a4a4a" stroke-width="0.9"/>
<text x="150.70000000000002" y="229.60" font-size="5" font-weight="bold" fill="#333" stroke="#333" stroke-width="0.18" text-anchor="end" >300</text>
<path d="M153.9,292.3 L161.0,291.0 L168.1,286.9 L173.8,283.7 L178.0,285.9 L185.1,283.7 L196.1,278.8 L204.2,270.8 L206.9,268.9 L209.1,257.9 L214.2,232.7" stroke="#8e8e8e" stroke-width="0.9" fill="none" stroke-linejoin="round" stroke-linecap="round"/>
<path d="M153.9,292.3 L161.0,291.2 L168.1,288.0 L173.8,285.9 L179.5,286.3 L190.1,283.9 L200.2,275.7 L206.2,267.8 L210.3,260.7 L214.2,251.7" stroke="#8e8e8e" stroke-width="0.9" fill="none" stroke-linejoin="round" stroke-linecap="round"/>
<path d="M153.9,292.3 L161.0,290.6 L166.7,284.1 L171.9,279.8 L177.5,285.4 L179.9,277.9 L183.0,267.8" stroke="#8e8e8e" stroke-width="0.9" fill="none" stroke-linejoin="round" stroke-linecap="round"/>
<path d="M153.9,292.3 L161.0,290.2 L166.7,284.8 L171.9,280.9 L175.2,283.7 L179.9,285.9 L188.0,278.8 L193.1,272.3 L197.5,267.8" stroke="#8e8e8e" stroke-width="0.9" fill="none" stroke-linejoin="round" stroke-linecap="round"/>
<path d="M153.9,292.3 L161.0,291.7 L169.5,288.9 L182.3,289.3 L200.2,289.5 L216.4,288.9 L224.3,288.0 L232.4,283.9 L238.5,276.8 L243.4,267.8 L246.6,260.1" stroke="#8e8e8e" stroke-width="0.9" fill="none" stroke-linejoin="round" stroke-linecap="round"/>
<path d="M153.9,292.3 L161.0,291.4 L168.1,288.4 L171.9,285.9 L179.5,288.0 L189.4,289.5 L196.1,288.2 L200.2,291.0 L203.6,292.3 L253.3,292.3" stroke="#8e8e8e" stroke-width="0.9" fill="none" stroke-linejoin="round" stroke-linecap="round"/>
<text x="157.3" y="235.4" font-size="7.8" font-weight="normal" fill="#444" stroke="#444" stroke-width="0.29" text-anchor="start" textLength="10.3" lengthAdjust="spacingAndGlyphs" >1/6</text>
<path d="M272.7,227.3 V292.3 H372.6" stroke="#4a4a4a" stroke-width="1" fill="none"/>
<line x1="272.70" y1="292.3" x2="272.70" y2="294.7" stroke="#4a4a4a" stroke-width="0.9"/>
<text x="272.70" y="300.2" font-size="5" font-weight="bold" fill="#333" stroke="#333" stroke-width="0.18" text-anchor="middle" >0</text>
<line x1="286.90" y1="292.3" x2="286.90" y2="294.7" stroke="#4a4a4a" stroke-width="0.9"/>
<text x="286.90" y="300.2" font-size="5" font-weight="bold" fill="#333" stroke="#333" stroke-width="0.18" text-anchor="middle" >10</text>
<line x1="301.10" y1="292.3" x2="301.10" y2="294.7" stroke="#4a4a4a" stroke-width="0.9"/>
<text x="301.10" y="300.2" font-size="5" font-weight="bold" fill="#333" stroke="#333" stroke-width="0.18" text-anchor="middle" >20</text>
<line x1="315.30" y1="292.3" x2="315.30" y2="294.7" stroke="#4a4a4a" stroke-width="0.9"/>
<text x="315.30" y="300.2" font-size="5" font-weight="bold" fill="#333" stroke="#333" stroke-width="0.18" text-anchor="middle" >30</text>
<line x1="329.50" y1="292.3" x2="329.50" y2="294.7" stroke="#4a4a4a" stroke-width="0.9"/>
<text x="329.50" y="300.2" font-size="5" font-weight="bold" fill="#333" stroke="#333" stroke-width="0.18" text-anchor="middle" >40</text>
<line x1="343.70" y1="292.3" x2="343.70" y2="294.7" stroke="#4a4a4a" stroke-width="0.9"/>
<text x="343.70" y="300.2" font-size="5" font-weight="bold" fill="#333" stroke="#333" stroke-width="0.18" text-anchor="middle" >50</text>
<line x1="357.90" y1="292.3" x2="357.90" y2="294.7" stroke="#4a4a4a" stroke-width="0.9"/>
<text x="357.90" y="300.2" font-size="5" font-weight="bold" fill="#333" stroke="#333" stroke-width="0.18" text-anchor="middle" >60</text>
<line x1="372.10" y1="292.3" x2="372.10" y2="294.7" stroke="#4a4a4a" stroke-width="0.9"/>
<text x="372.10" y="300.2" font-size="5" font-weight="bold" fill="#333" stroke="#333" stroke-width="0.18" text-anchor="middle" >70</text>
<line x1="269.5" y1="292.30" x2="272.7" y2="292.30" stroke="#4a4a4a" stroke-width="0.9"/>
<text x="269.5" y="294.10" font-size="5" font-weight="bold" fill="#333" stroke="#333" stroke-width="0.18" text-anchor="end" >0</text>
<line x1="269.5" y1="270.80" x2="272.7" y2="270.80" stroke="#4a4a4a" stroke-width="0.9"/>
<text x="269.5" y="272.60" font-size="5" font-weight="bold" fill="#333" stroke="#333" stroke-width="0.18" text-anchor="end" >100</text>
<line x1="269.5" y1="249.30" x2="272.7" y2="249.30" stroke="#4a4a4a" stroke-width="0.9"/>
<text x="269.5" y="251.10" font-size="5" font-weight="bold" fill="#333" stroke="#333" stroke-width="0.18" text-anchor="end" >200</text>
<line x1="269.5" y1="227.80" x2="272.7" y2="227.80" stroke="#4a4a4a" stroke-width="0.9"/>
<text x="269.5" y="229.60" font-size="5" font-weight="bold" fill="#333" stroke="#333" stroke-width="0.18" text-anchor="end" >300</text>
<path d="M272.7,292.3 L279.8,290.2 L286.9,284.8 L291.2,282.8 L297.3,279.0 L302.0,271.4 L306.5,268.2 L312.7,257.9" stroke="#1f5f78" stroke-width="0.9" fill="none" stroke-linejoin="round" stroke-linecap="round"/>
<path d="M272.7,292.3 L279.8,290.2 L287.3,281.3 L294.3,282.8 L303.5,281.3 L312.7,272.9 L322.3,261.3" stroke="#1f5f78" stroke-width="0.9" fill="none" stroke-linejoin="round" stroke-linecap="round"/>
<path d="M272.7,292.3 L279.8,289.7 L287.3,280.9 L292.6,281.6 L298.8,280.5 L306.8,279.8 L314.2,273.6 L326.5,262.2 L333.8,245.6" stroke="#1f5f78" stroke-width="0.9" fill="none" stroke-linejoin="round" stroke-linecap="round"/>
<path d="M272.7,292.3 L279.8,290.6 L286.9,284.8 L292.6,282.6 L300.4,283.7 L308.2,279.0 L318.8,269.9 L327.4,263.1 L333.8,253.8" stroke="#1f5f78" stroke-width="0.9" fill="none" stroke-linejoin="round" stroke-linecap="round"/>
<path d="M272.7,292.3 L279.8,291.0 L286.9,285.9 L291.2,283.7 L300.4,286.7 L309.6,284.3 L320.4,279.8 L326.7,278.3 L332.8,273.6 L337.6,265.0" stroke="#1f5f78" stroke-width="0.9" fill="none" stroke-linejoin="round" stroke-linecap="round"/>
<path d="M272.7,292.3 L279.8,291.4 L286.9,290.4 L291.2,289.5 L298.3,290.2 L305.4,291.2 L312.5,292.3 L372.1,292.3" stroke="#1f5f78" stroke-width="0.9" fill="none" stroke-linejoin="round" stroke-linecap="round"/>
<text x="276.09999999999997" y="235.4" font-size="7.8" font-weight="normal" fill="#444" stroke="#444" stroke-width="0.29" text-anchor="start" textLength="10.3" lengthAdjust="spacingAndGlyphs" >1/6</text>
<path d="M390.6,227.3 V292.3 H490.5" stroke="#4a4a4a" stroke-width="1" fill="none"/>
<line x1="390.60" y1="292.3" x2="390.60" y2="294.7" stroke="#4a4a4a" stroke-width="0.9"/>
<text x="390.60" y="300.2" font-size="5" font-weight="bold" fill="#333" stroke="#333" stroke-width="0.18" text-anchor="middle" >0</text>
<line x1="404.80" y1="292.3" x2="404.80" y2="294.7" stroke="#4a4a4a" stroke-width="0.9"/>
<text x="404.80" y="300.2" font-size="5" font-weight="bold" fill="#333" stroke="#333" stroke-width="0.18" text-anchor="middle" >10</text>
<line x1="419.00" y1="292.3" x2="419.00" y2="294.7" stroke="#4a4a4a" stroke-width="0.9"/>
<text x="419.00" y="300.2" font-size="5" font-weight="bold" fill="#333" stroke="#333" stroke-width="0.18" text-anchor="middle" >20</text>
<line x1="433.20" y1="292.3" x2="433.20" y2="294.7" stroke="#4a4a4a" stroke-width="0.9"/>
<text x="433.20" y="300.2" font-size="5" font-weight="bold" fill="#333" stroke="#333" stroke-width="0.18" text-anchor="middle" >30</text>
<line x1="447.40" y1="292.3" x2="447.40" y2="294.7" stroke="#4a4a4a" stroke-width="0.9"/>
<text x="447.40" y="300.2" font-size="5" font-weight="bold" fill="#333" stroke="#333" stroke-width="0.18" text-anchor="middle" >40</text>
<line x1="461.60" y1="292.3" x2="461.60" y2="294.7" stroke="#4a4a4a" stroke-width="0.9"/>
<text x="461.60" y="300.2" font-size="5" font-weight="bold" fill="#333" stroke="#333" stroke-width="0.18" text-anchor="middle" >50</text>
<line x1="475.80" y1="292.3" x2="475.80" y2="294.7" stroke="#4a4a4a" stroke-width="0.9"/>
<text x="475.80" y="300.2" font-size="5" font-weight="bold" fill="#333" stroke="#333" stroke-width="0.18" text-anchor="middle" >60</text>
<line x1="490.00" y1="292.3" x2="490.00" y2="294.7" stroke="#4a4a4a" stroke-width="0.9"/>
<text x="490.00" y="300.2" font-size="5" font-weight="bold" fill="#333" stroke="#333" stroke-width="0.18" text-anchor="middle" >70</text>
<line x1="387.40000000000003" y1="292.30" x2="390.6" y2="292.30" stroke="#4a4a4a" stroke-width="0.9"/>
<text x="387.40000000000003" y="294.10" font-size="5" font-weight="bold" fill="#333" stroke="#333" stroke-width="0.18" text-anchor="end" >0</text>
<line x1="387.40000000000003" y1="270.80" x2="390.6" y2="270.80" stroke="#4a4a4a" stroke-width="0.9"/>
<text x="387.40000000000003" y="272.60" font-size="5" font-weight="bold" fill="#333" stroke="#333" stroke-width="0.18" text-anchor="end" >100</text>
<line x1="387.40000000000003" y1="249.30" x2="390.6" y2="249.30" stroke="#4a4a4a" stroke-width="0.9"/>
<text x="387.40000000000003" y="251.10" font-size="5" font-weight="bold" fill="#333" stroke="#333" stroke-width="0.18" text-anchor="end" >200</text>
<line x1="387.40000000000003" y1="227.80" x2="390.6" y2="227.80" stroke="#4a4a4a" stroke-width="0.9"/>
<text x="387.40000000000003" y="229.60" font-size="5" font-weight="bold" fill="#333" stroke="#333" stroke-width="0.18" text-anchor="end" >300</text>
<path d="M390.6,292.3 L397.7,289.1 L404.8,284.8 L408.2,282.2 L413.3,283.9 L421.8,283.3 L428.9,282.4 L436.0,277.7 L440.3,277.2 L445.6,272.1 L451.2,266.9 L455.4,251.9" stroke="#3dbf98" stroke-width="0.9" fill="none" stroke-linejoin="round" stroke-linecap="round"/>
<path d="M390.6,292.3 L397.7,289.7 L404.8,286.3 L408.2,284.1 L415.2,285.9 L421.8,285.6 L428.9,285.6 L437.5,283.9 L443.7,285.0 L451.7,279.8 L455.1,280.5 L457.6,271.2 L461.5,251.9" stroke="#3dbf98" stroke-width="0.9" fill="none" stroke-linejoin="round" stroke-linecap="round"/>
<path d="M390.6,292.3 L397.7,290.2 L404.8,286.9 L408.2,285.0 L414.7,286.9 L425.5,288.4 L431.1,288.9 L432.9,292.3 L484.3,292.3" stroke="#3dbf98" stroke-width="0.9" fill="none" stroke-linejoin="round" stroke-linecap="round"/>
<path d="M390.6,292.3 L397.7,290.6 L404.8,288.4 L408.2,287.6 L413.3,290.2 L420.4,291.0 L426.1,291.0 L431.8,291.4 L433.2,292.3 L484.3,292.3" stroke="#3dbf98" stroke-width="0.9" fill="none" stroke-linejoin="round" stroke-linecap="round"/>
<path d="M390.6,292.3 L397.7,291.2 L404.8,290.2 L409.1,286.9 L413.3,290.6 L419.0,291.7 L423.3,292.3 L484.3,292.3" stroke="#3dbf98" stroke-width="0.9" fill="none" stroke-linejoin="round" stroke-linecap="round"/>
<path d="M390.6,292.3 L397.7,291.7 L404.8,290.6 L409.1,289.1 L414.7,291.2 L419.0,292.3 L484.3,292.3" stroke="#3dbf98" stroke-width="0.9" fill="none" stroke-linejoin="round" stroke-linecap="round"/>
<text x="394.0" y="235.4" font-size="7.8" font-weight="normal" fill="#444" stroke="#444" stroke-width="0.29" text-anchor="start" textLength="10.3" lengthAdjust="spacingAndGlyphs" >4/6</text>
<text x="178.75" y="314" font-size="8.5" font-weight="normal" fill="#3a3a3a" stroke="#3a3a3a" stroke-width="0.30" text-anchor="start" textLength="35" lengthAdjust="spacingAndGlyphs" >CR = 0/6</text>
<text x="302.5" y="314" font-size="8.5" font-weight="normal" fill="#3a3a3a" stroke="#3a3a3a" stroke-width="0.30" text-anchor="start" textLength="35" lengthAdjust="spacingAndGlyphs" >CR = 1/6</text>
<text x="421" y="314" font-size="8.5" font-weight="normal" fill="#3a3a3a" stroke="#3a3a3a" stroke-width="0.30" text-anchor="start" textLength="35" lengthAdjust="spacingAndGlyphs" >CR = 4/6</text>
<text x="42.3" y="325.2" font-size="7.9" font-weight="bold" fill="#3a3a3a" stroke="#3a3a3a" stroke-width="0.28" text-anchor="start" textLength="137.5" lengthAdjust="spacingAndGlyphs" >Days post B16OVA s.c. implantation</text>
<line x1="184.5" y1="322.2" x2="459" y2="322.2" stroke="#444" stroke-width="0.9"/>
<path d="M457.8,319.7 L464.2,322.2 L457.8,324.7 Z" fill="#111"/>
<text x="0.6" y="353.9" font-size="12.6" font-weight="bold" fill="#111" stroke="#111" stroke-width="0.28" text-anchor="start" >C</text>
<line x1="15" y1="369.5" x2="26.3" y2="369.5" stroke="#111111" stroke-width="1.7"/>
<circle cx="20.65" cy="369.50" r="2.2" fill="#111111"/>
<text x="31.25" y="372.2" font-size="8.2" font-weight="normal" fill="#3a3a3a" stroke="#3a3a3a" stroke-width="0.30" text-anchor="start" textLength="36.25" lengthAdjust="spacingAndGlyphs" >Luc + IgG</text>
<line x1="15" y1="384.4" x2="26.3" y2="384.4" stroke="#858585" stroke-width="1.7"/>
<rect x="18.67" y="382.42" width="3.96" height="3.96" fill="#858585"/>
<text x="31.25" y="387.09999999999997" font-size="8.2" font-weight="normal" fill="#3a3a3a" stroke="#3a3a3a" stroke-width="0.30" text-anchor="start" textLength="46.25" lengthAdjust="spacingAndGlyphs" >Luc + αPD-1</text>
<line x1="15" y1="398.7" x2="26.3" y2="398.7" stroke="#1d5f76" stroke-width="1.7"/>
<path d="M20.65,396.17 L22.96,400.46 L18.34,400.46 Z" fill="#1d5f76"/>
<text x="30.6" y="401.4" font-size="8.2" font-weight="normal" fill="#3a3a3a" stroke="#3a3a3a" stroke-width="0.30" text-anchor="start" textLength="71.4" lengthAdjust="spacingAndGlyphs" >IL12 + DR-18 + IgG</text>
<line x1="15" y1="413" x2="26.3" y2="413" stroke="#3cbe97" stroke-width="1.7"/>
<path d="M20.65,415.53 L22.96,411.24 L18.34,411.24 Z" fill="#3cbe97"/>
<text x="30.6" y="415.7" font-size="8.2" font-weight="normal" fill="#3a3a3a" stroke="#3a3a3a" stroke-width="0.30" text-anchor="start" textLength="80.6" lengthAdjust="spacingAndGlyphs" >IL12 + DR-18 + αPD-1</text>
<path d="M17.85,425 H19.65 V438.80 L21.95,437.80 L18.75,445.3 L15.55,437.80 L17.85,438.80 Z" fill="#8e1b1f"/>
<text x="25" y="437" font-size="8.3" font-weight="bold" fill="#3a3a3a" stroke="#3a3a3a" stroke-width="0.28" text-anchor="start" textLength="37" lengthAdjust="spacingAndGlyphs" ><tspan font-weight="normal" stroke-width="0.1">α</tspan>PD-1 i.p</text>
<line x1="18.75" y1="451.2" x2="18.75" y2="470.6" stroke="#111" stroke-width="1.45" stroke-dasharray="0.01 2.59" stroke-linecap="round"/>
<text x="25" y="463.7" font-size="8.3" font-weight="bold" fill="#3a3a3a" stroke="#3a3a3a" stroke-width="0.28" text-anchor="start" textLength="37.5" lengthAdjust="spacingAndGlyphs" >mRNA i.t</text>
<line x1="185.75" y1="382.8" x2="185.75" y2="480.6" stroke="#111" stroke-width="1.45" stroke-dasharray="0.01 2.59" stroke-linecap="round"/>
<line x1="200.30" y1="382.8" x2="200.30" y2="480.6" stroke="#111" stroke-width="1.45" stroke-dasharray="0.01 2.59" stroke-linecap="round"/>
<path d="M184.9,352.2 H186.6 V367.10 L188.85,366.10 L185.75,373.6 L182.65,366.10 L184.9,367.10 Z" fill="#8e1b1f"/>
<path d="M199.45000000000002,352.2 H201.15 V367.10 L203.4,366.10 L200.3,373.6 L197.20000000000002,366.10 L199.45000000000002,367.10 Z" fill="#8e1b1f"/>
<path d="M214.00000000000003,352.2 H215.70000000000002 V367.10 L217.95000000000002,366.10 L214.85000000000002,373.6 L211.75000000000003,366.10 L214.00000000000003,367.10 Z" fill="#8e1b1f"/>
<path d="M214.85,436.77 V422.65 M212.35,422.65 H217.35" stroke="#adadad" stroke-width="0.9" fill="none"/>
<path d="M224.55,423.13 V400.25 M222.05,400.25 H227.05" stroke="#adadad" stroke-width="0.9" fill="none"/>
<path d="M234.25,423.62 V405.12 M231.75,405.12 H236.75" stroke="#adadad" stroke-width="0.9" fill="none"/>
<path d="M200.30,461.12 V457.22 M197.80,457.22 H202.80" stroke="#b4b4b4" stroke-width="0.9" fill="none"/>
<path d="M214.85,459.17 V452.35 M212.35,452.35 H217.35" stroke="#b4b4b4" stroke-width="0.9" fill="none"/>
<path d="M224.55,462.09 V449.43 M222.05,449.43 H227.05" stroke="#b4b4b4" stroke-width="0.9" fill="none"/>
<path d="M234.25,461.36 V443.34 M231.75,443.34 H236.75" stroke="#b4b4b4" stroke-width="0.9" fill="none"/>
<path d="M253.65,457.71 V427.03 M251.15,427.03 H256.15" stroke="#b4b4b4" stroke-width="0.9" fill="none"/>
<path d="M185.75,464.04 V459.17 M183.25,459.17 H188.25" stroke="#a3bfcb" stroke-width="0.9" fill="none"/>
<path d="M200.30,462.82 V458.93 M197.80,458.93 H202.80" stroke="#a3bfcb" stroke-width="0.9" fill="none"/>
<path d="M214.85,466.96 V464.53 M212.35,464.53 H217.35" stroke="#a3bfcb" stroke-width="0.9" fill="none"/>
<path d="M224.55,468.67 V466.23 M222.05,466.23 H227.05" stroke="#a3bfcb" stroke-width="0.9" fill="none"/>
<path d="M234.25,471.10 V468.18 M231.75,468.18 H236.75" stroke="#a3bfcb" stroke-width="0.9" fill="none"/>
<path d="M253.65,471.10 V467.21 M251.15,467.21 H256.15" stroke="#a3bfcb" stroke-width="0.9" fill="none"/>
<path d="M268.20,469.89 V456.25 M265.70,456.25 H270.70" stroke="#a3bfcb" stroke-width="0.9" fill="none"/>
<path d="M287.60,466.48 V444.56 M285.10,444.56 H290.10" stroke="#a3bfcb" stroke-width="0.9" fill="none"/>
<path d="M185.75,463.07 V458.20 M183.25,458.20 H188.25" stroke="#a3e2cd" stroke-width="0.9" fill="none"/>
<path d="M200.30,463.07 V459.17 M197.80,459.17 H202.80" stroke="#a3e2cd" stroke-width="0.9" fill="none"/>
<path d="M214.85,467.45 V464.53 M212.35,464.53 H217.35" stroke="#a3e2cd" stroke-width="0.9" fill="none"/>
<path d="M224.55,470.37 V467.45 M222.05,467.45 H227.05" stroke="#a3e2cd" stroke-width="0.9" fill="none"/>
<path d="M234.25,473.05 V470.62 M231.75,470.62 H236.75" stroke="#a3e2cd" stroke-width="0.9" fill="none"/>
<path d="M253.65,474.03 V471.59 M251.15,471.59 H256.15" stroke="#a3e2cd" stroke-width="0.9" fill="none"/>
<path d="M268.20,477.43 V475.49 M265.70,475.49 H270.70" stroke="#a3e2cd" stroke-width="0.9" fill="none"/>
<path d="M287.60,476.95 V473.54 M285.10,473.54 H290.10" stroke="#a3e2cd" stroke-width="0.9" fill="none"/>
<path d="M151.80,480.60 L185.75,463.07 L200.30,463.07 L214.85,467.45 L224.55,470.37 L234.25,473.05 L253.65,474.03 L268.20,477.43 L287.60,476.95" stroke="#3cbe97" stroke-width="1.75" fill="none" stroke-linejoin="round"/>
<path d="M151.80,482.56 L153.59,479.24 L150.02,479.24 Z" fill="#3cbe97"/>
<path d="M185.75,465.02 L187.53,461.71 L183.97,461.71 Z" fill="#3cbe97"/>
<path d="M200.30,465.02 L202.09,461.71 L198.52,461.71 Z" fill="#3cbe97"/>
<path d="M214.85,469.41 L216.64,466.09 L213.07,466.09 Z" fill="#3cbe97"/>
<path d="M224.55,472.33 L226.34,469.01 L222.77,469.01 Z" fill="#3cbe97"/>
<path d="M234.25,475.01 L236.03,471.69 L232.47,471.69 Z" fill="#3cbe97"/>
<path d="M253.65,475.98 L255.44,472.67 L251.87,472.67 Z" fill="#3cbe97"/>
<path d="M268.20,479.39 L269.99,476.07 L266.42,476.07 Z" fill="#3cbe97"/>
<path d="M287.60,478.90 L289.39,475.59 L285.81,475.59 Z" fill="#3cbe97"/>
<path d="M151.80,480.60 L185.75,464.04 L200.30,462.82 L214.85,466.96 L224.55,468.67 L234.25,471.10 L253.65,471.10 L268.20,469.89 L287.60,466.48" stroke="#1d5f76" stroke-width="1.75" fill="none" stroke-linejoin="round"/>
<path d="M151.80,478.65 L153.59,481.96 L150.02,481.96 Z" fill="#1d5f76"/>
<path d="M185.75,462.09 L187.53,465.40 L183.97,465.40 Z" fill="#1d5f76"/>
<path d="M200.30,460.87 L202.09,464.18 L198.52,464.18 Z" fill="#1d5f76"/>
<path d="M214.85,465.01 L216.64,468.32 L213.07,468.32 Z" fill="#1d5f76"/>
<path d="M224.55,466.71 L226.34,470.03 L222.77,470.03 Z" fill="#1d5f76"/>
<path d="M234.25,469.15 L236.03,472.46 L232.47,472.46 Z" fill="#1d5f76"/>
<path d="M253.65,469.15 L255.44,472.46 L251.87,472.46 Z" fill="#1d5f76"/>
<path d="M268.20,467.93 L269.99,471.25 L266.42,471.25 Z" fill="#1d5f76"/>
<path d="M287.60,464.52 L289.39,467.84 L285.81,467.84 Z" fill="#1d5f76"/>
<path d="M151.80,480.60 L185.75,467.45 L200.30,461.12 L214.85,459.17 L224.55,462.09 L234.25,461.36 L253.65,457.71" stroke="#858585" stroke-width="1.75" fill="none" stroke-linejoin="round"/>
<rect x="150.00" y="478.80" width="3.60" height="3.60" fill="#858585"/>
<rect x="183.95" y="465.65" width="3.60" height="3.60" fill="#858585"/>
<rect x="198.50" y="459.32" width="3.60" height="3.60" fill="#858585"/>
<rect x="213.05" y="457.37" width="3.60" height="3.60" fill="#858585"/>
<rect x="222.75" y="460.29" width="3.60" height="3.60" fill="#858585"/>
<rect x="232.45" y="459.56" width="3.60" height="3.60" fill="#858585"/>
<rect x="251.85" y="455.91" width="3.60" height="3.60" fill="#858585"/>
<path d="M151.80,480.60 L185.75,469.89 L200.30,454.30 L214.85,436.77 L224.55,423.13 L234.25,423.62 L253.65,407.31" stroke="#111111" stroke-width="1.75" fill="none" stroke-linejoin="round"/>
<circle cx="151.80" cy="480.60" r="2.2" fill="#111111"/>
<circle cx="185.75" cy="469.89" r="2.2" fill="#111111"/>
<circle cx="200.30" cy="454.30" r="2.2" fill="#111111"/>
<circle cx="214.85" cy="436.77" r="2.2" fill="#111111"/>
<circle cx="224.55" cy="423.13" r="2.2" fill="#111111"/>
<circle cx="234.25" cy="423.62" r="2.2" fill="#111111"/>
<circle cx="253.65" cy="407.31" r="2.2" fill="#111111"/>
<path d="M151.8,382.6 V480.6 H297.90000000000003" stroke="#1a1a1a" stroke-width="1.3" fill="none"/>
<line x1="151.80" y1="480.6" x2="151.80" y2="484.6" stroke="#1a1a1a" stroke-width="1.2"/>
<text x="151.80" y="491.6" font-size="6.8" font-weight="bold" fill="#222" stroke="#222" stroke-width="0.24" text-anchor="middle" >0</text>
<line x1="200.30" y1="480.6" x2="200.30" y2="484.6" stroke="#1a1a1a" stroke-width="1.2"/>
<text x="200.30" y="491.6" font-size="6.8" font-weight="bold" fill="#222" stroke="#222" stroke-width="0.24" text-anchor="middle" >10</text>
<line x1="248.80" y1="480.6" x2="248.80" y2="484.6" stroke="#1a1a1a" stroke-width="1.2"/>
<text x="248.80" y="491.6" font-size="6.8" font-weight="bold" fill="#222" stroke="#222" stroke-width="0.24" text-anchor="middle" >20</text>
<line x1="297.30" y1="480.6" x2="297.30" y2="484.6" stroke="#1a1a1a" stroke-width="1.2"/>
<text x="297.30" y="491.6" font-size="6.8" font-weight="bold" fill="#222" stroke="#222" stroke-width="0.24" text-anchor="middle" >30</text>
<line x1="147.3" y1="480.60" x2="151.8" y2="480.60" stroke="#1a1a1a" stroke-width="1.2"/>
<text x="146.5" y="483.05" font-size="6.8" font-weight="bold" fill="#222" stroke="#222" stroke-width="0.24" text-anchor="end" >0</text>
<line x1="147.3" y1="456.25" x2="151.8" y2="456.25" stroke="#1a1a1a" stroke-width="1.2"/>
<text x="146.5" y="458.70" font-size="6.8" font-weight="bold" fill="#222" stroke="#222" stroke-width="0.24" text-anchor="end" >50</text>
<line x1="147.3" y1="431.90" x2="151.8" y2="431.90" stroke="#1a1a1a" stroke-width="1.2"/>
<text x="146.5" y="434.35" font-size="6.8" font-weight="bold" fill="#222" stroke="#222" stroke-width="0.24" text-anchor="end" >100</text>
<line x1="147.3" y1="407.55" x2="151.8" y2="407.55" stroke="#1a1a1a" stroke-width="1.2"/>
<text x="146.5" y="410.00" font-size="6.8" font-weight="bold" fill="#222" stroke="#222" stroke-width="0.24" text-anchor="end" >150</text>
<line x1="147.3" y1="383.20" x2="151.8" y2="383.20" stroke="#1a1a1a" stroke-width="1.2"/>
<text x="146.5" y="385.65" font-size="6.8" font-weight="bold" fill="#222" stroke="#222" stroke-width="0.24" text-anchor="end" >200</text>
<text x="158" y="505" font-size="7.8" font-weight="bold" fill="#3a3a3a" stroke="#3a3a3a" stroke-width="0.27" text-anchor="start" textLength="134" lengthAdjust="spacingAndGlyphs" >Days post B16OVA s.c. implantation</text>
<text transform="translate(128.4,432.6) rotate(-90)" font-size="7.9" font-weight="bold" fill="#3a3a3a" stroke="#3a3a3a" stroke-width="0.35" text-anchor="middle" textLength="68" lengthAdjust="spacingAndGlyphs">Tumor area (mm<tspan font-size="4.8" dy="-2.8">2</tspan><tspan dy="2.8">)</tspan></text>
<line x1="389.70" y1="382" x2="389.70" y2="482.7" stroke="#111" stroke-width="1.45" stroke-dasharray="0.01 2.59" stroke-linecap="round"/>
<line x1="404.70" y1="382" x2="404.70" y2="482.7" stroke="#111" stroke-width="1.45" stroke-dasharray="0.01 2.59" stroke-linecap="round"/>
<path d="M388.84999999999997,351 H390.55 V365.90 L392.8,364.90 L389.7,372.4 L386.59999999999997,364.90 L388.84999999999997,365.90 Z" fill="#8e1b1f"/>
<path d="M403.84999999999997,351 H405.55 V365.90 L407.8,364.90 L404.7,372.4 L401.59999999999997,364.90 L403.84999999999997,365.90 Z" fill="#8e1b1f"/>
<path d="M418.84999999999997,351 H420.55 V365.90 L422.8,364.90 L419.7,372.4 L416.59999999999997,364.90 L418.84999999999997,365.90 Z" fill="#8e1b1f"/>
<path d="M419.70,456.92 V449.92 M417.20,449.92 H422.20" stroke="#adadad" stroke-width="0.9" fill="none"/>
<path d="M429.70,446.16 V437.15 M427.20,437.15 H432.20" stroke="#adadad" stroke-width="0.9" fill="none"/>
<path d="M439.70,440.91 V434.90 M437.20,434.90 H442.20" stroke="#adadad" stroke-width="0.9" fill="none"/>
<path d="M404.70,472.19 V468.19 M402.20,468.19 H407.20" stroke="#b4b4b4" stroke-width="0.9" fill="none"/>
<path d="M419.70,466.18 V461.18 M417.20,461.18 H422.20" stroke="#b4b4b4" stroke-width="0.9" fill="none"/>
<path d="M429.70,466.93 V459.93 M427.20,459.93 H432.20" stroke="#b4b4b4" stroke-width="0.9" fill="none"/>
<path d="M439.70,470.44 V464.43 M437.20,464.43 H442.20" stroke="#b4b4b4" stroke-width="0.9" fill="none"/>
<path d="M459.70,462.68 V445.16 M457.20,445.16 H462.20" stroke="#b4b4b4" stroke-width="0.9" fill="none"/>
<path d="M389.70,475.69 V473.19 M387.20,473.19 H392.20" stroke="#a3bfcb" stroke-width="0.9" fill="none"/>
<path d="M404.70,469.69 V465.68 M402.20,465.68 H407.20" stroke="#a3bfcb" stroke-width="0.9" fill="none"/>
<path d="M419.70,463.93 V457.93 M417.20,457.93 H422.20" stroke="#a3bfcb" stroke-width="0.9" fill="none"/>
<path d="M429.70,465.18 V458.68 M427.20,458.68 H432.20" stroke="#a3bfcb" stroke-width="0.9" fill="none"/>
<path d="M439.70,464.18 V455.17 M437.20,455.17 H442.20" stroke="#a3bfcb" stroke-width="0.9" fill="none"/>
<path d="M459.70,461.18 V445.16 M457.20,445.16 H462.20" stroke="#a3bfcb" stroke-width="0.9" fill="none"/>
<path d="M474.70,456.92 V439.41 M472.20,439.41 H477.20" stroke="#a3bfcb" stroke-width="0.9" fill="none"/>
<path d="M494.70,449.67 V422.64 M492.20,422.64 H497.20" stroke="#a3bfcb" stroke-width="0.9" fill="none"/>
<path d="M389.70,476.69 V474.19 M387.20,474.19 H392.20" stroke="#a3e2cd" stroke-width="0.9" fill="none"/>
<path d="M404.70,473.69 V469.69 M402.20,469.69 H407.20" stroke="#a3e2cd" stroke-width="0.9" fill="none"/>
<path d="M419.70,470.19 V465.18 M417.20,465.18 H422.20" stroke="#a3e2cd" stroke-width="0.9" fill="none"/>
<path d="M429.70,471.94 V466.93 M427.20,466.93 H432.20" stroke="#a3e2cd" stroke-width="0.9" fill="none"/>
<path d="M439.70,472.94 V468.94 M437.20,468.94 H442.20" stroke="#a3e2cd" stroke-width="0.9" fill="none"/>
<path d="M459.70,473.19 V469.19 M457.20,469.19 H462.20" stroke="#a3e2cd" stroke-width="0.9" fill="none"/>
<path d="M474.70,474.19 V465.68 M472.20,465.68 H477.20" stroke="#a3e2cd" stroke-width="0.9" fill="none"/>
<path d="M494.70,473.69 V465.18 M492.20,465.18 H497.20" stroke="#a3e2cd" stroke-width="0.9" fill="none"/>
<path d="M354.70,482.70 L389.70,476.69 L404.70,473.69 L419.70,470.19 L429.70,471.94 L439.70,472.94 L459.70,473.19 L474.70,474.19 L494.70,473.69" stroke="#3cbe97" stroke-width="1.75" fill="none" stroke-linejoin="round"/>
<path d="M354.70,484.65 L356.49,481.34 L352.91,481.34 Z" fill="#3cbe97"/>
<path d="M389.70,478.65 L391.49,475.33 L387.91,475.33 Z" fill="#3cbe97"/>
<path d="M404.70,475.65 L406.49,472.33 L402.91,472.33 Z" fill="#3cbe97"/>
<path d="M419.70,472.14 L421.49,468.83 L417.91,468.83 Z" fill="#3cbe97"/>
<path d="M429.70,473.89 L431.49,470.58 L427.91,470.58 Z" fill="#3cbe97"/>
<path d="M439.70,474.90 L441.49,471.58 L437.91,471.58 Z" fill="#3cbe97"/>
<path d="M459.70,475.15 L461.49,471.83 L457.91,471.83 Z" fill="#3cbe97"/>
<path d="M474.70,476.15 L476.49,472.83 L472.91,472.83 Z" fill="#3cbe97"/>
<path d="M494.70,475.65 L496.49,472.33 L492.91,472.33 Z" fill="#3cbe97"/>
<path d="M354.70,482.70 L389.70,475.69 L404.70,469.69 L419.70,463.93 L429.70,465.18 L439.70,464.18 L459.70,461.18 L474.70,456.92 L494.70,449.67" stroke="#1d5f76" stroke-width="1.75" fill="none" stroke-linejoin="round"/>
<path d="M354.70,480.75 L356.49,484.06 L352.91,484.06 Z" fill="#1d5f76"/>
<path d="M389.70,473.74 L391.49,477.05 L387.91,477.05 Z" fill="#1d5f76"/>
<path d="M404.70,467.73 L406.49,471.05 L402.91,471.05 Z" fill="#1d5f76"/>
<path d="M419.70,461.98 L421.49,465.29 L417.91,465.29 Z" fill="#1d5f76"/>
<path d="M429.70,463.23 L431.49,466.54 L427.91,466.54 Z" fill="#1d5f76"/>
<path d="M439.70,462.23 L441.49,465.54 L437.91,465.54 Z" fill="#1d5f76"/>
<path d="M459.70,459.22 L461.49,462.54 L457.91,462.54 Z" fill="#1d5f76"/>
<path d="M474.70,454.97 L476.49,458.28 L472.91,458.28 Z" fill="#1d5f76"/>
<path d="M494.70,447.71 L496.49,451.03 L492.91,451.03 Z" fill="#1d5f76"/>
<path d="M354.70,482.70 L389.70,476.69 L404.70,472.19 L419.70,466.18 L429.70,466.93 L439.70,470.44 L459.70,462.68" stroke="#858585" stroke-width="1.75" fill="none" stroke-linejoin="round"/>
<rect x="352.90" y="480.90" width="3.60" height="3.60" fill="#858585"/>
<rect x="387.90" y="474.89" width="3.60" height="3.60" fill="#858585"/>
<rect x="402.90" y="470.39" width="3.60" height="3.60" fill="#858585"/>
<rect x="417.90" y="464.38" width="3.60" height="3.60" fill="#858585"/>
<rect x="427.90" y="465.13" width="3.60" height="3.60" fill="#858585"/>
<rect x="437.90" y="468.64" width="3.60" height="3.60" fill="#858585"/>
<rect x="457.90" y="460.88" width="3.60" height="3.60" fill="#858585"/>
<path d="M354.70,482.70 L389.70,475.69 L404.70,466.43 L419.70,456.92 L429.70,446.16 L439.70,440.91 L459.70,409.13" stroke="#111111" stroke-width="1.75" fill="none" stroke-linejoin="round"/>
<circle cx="354.70" cy="482.70" r="2.2" fill="#111111"/>
<circle cx="389.70" cy="475.69" r="2.2" fill="#111111"/>
<circle cx="404.70" cy="466.43" r="2.2" fill="#111111"/>
<circle cx="419.70" cy="456.92" r="2.2" fill="#111111"/>
<circle cx="429.70" cy="446.16" r="2.2" fill="#111111"/>
<circle cx="439.70" cy="440.91" r="2.2" fill="#111111"/>
<circle cx="459.70" cy="409.13" r="2.2" fill="#111111"/>
<path d="M354.7,382.0 V482.7 H505.3" stroke="#1a1a1a" stroke-width="1.3" fill="none"/>
<line x1="354.70" y1="482.7" x2="354.70" y2="486.7" stroke="#1a1a1a" stroke-width="1.2"/>
<text x="354.70" y="493.7" font-size="6.8" font-weight="bold" fill="#222" stroke="#222" stroke-width="0.24" text-anchor="middle" >0</text>
<line x1="404.70" y1="482.7" x2="404.70" y2="486.7" stroke="#1a1a1a" stroke-width="1.2"/>
<text x="404.70" y="493.7" font-size="6.8" font-weight="bold" fill="#222" stroke="#222" stroke-width="0.24" text-anchor="middle" >10</text>
<line x1="454.70" y1="482.7" x2="454.70" y2="486.7" stroke="#1a1a1a" stroke-width="1.2"/>
<text x="454.70" y="493.7" font-size="6.8" font-weight="bold" fill="#222" stroke="#222" stroke-width="0.24" text-anchor="middle" >20</text>
<line x1="504.70" y1="482.7" x2="504.70" y2="486.7" stroke="#1a1a1a" stroke-width="1.2"/>
<text x="504.70" y="493.7" font-size="6.8" font-weight="bold" fill="#222" stroke="#222" stroke-width="0.24" text-anchor="middle" >30</text>
<line x1="350.2" y1="482.70" x2="354.7" y2="482.70" stroke="#1a1a1a" stroke-width="1.2"/>
<text x="349.4" y="485.15" font-size="6.8" font-weight="bold" fill="#222" stroke="#222" stroke-width="0.24" text-anchor="end" >0</text>
<line x1="350.2" y1="457.68" x2="354.7" y2="457.68" stroke="#1a1a1a" stroke-width="1.2"/>
<text x="349.4" y="460.12" font-size="6.8" font-weight="bold" fill="#222" stroke="#222" stroke-width="0.24" text-anchor="end" >50</text>
<line x1="350.2" y1="432.65" x2="354.7" y2="432.65" stroke="#1a1a1a" stroke-width="1.2"/>
<text x="349.4" y="435.10" font-size="6.8" font-weight="bold" fill="#222" stroke="#222" stroke-width="0.24" text-anchor="end" >100</text>
<line x1="350.2" y1="407.62" x2="354.7" y2="407.62" stroke="#1a1a1a" stroke-width="1.2"/>
<text x="349.4" y="410.07" font-size="6.8" font-weight="bold" fill="#222" stroke="#222" stroke-width="0.24" text-anchor="end" >150</text>
<line x1="350.2" y1="382.60" x2="354.7" y2="382.60" stroke="#1a1a1a" stroke-width="1.2"/>
<text x="349.4" y="385.05" font-size="6.8" font-weight="bold" fill="#222" stroke="#222" stroke-width="0.24" text-anchor="end" >200</text>
<text x="360.75" y="506.7" font-size="7.8" font-weight="bold" fill="#3a3a3a" stroke="#3a3a3a" stroke-width="0.27" text-anchor="start" textLength="137.75" lengthAdjust="spacingAndGlyphs" >Days post B16OVA s.c. implantation</text>
<text transform="translate(330.6,433.34999999999997) rotate(-90)" font-size="7.9" font-weight="bold" fill="#3a3a3a" stroke="#3a3a3a" stroke-width="0.35" text-anchor="middle" textLength="68" lengthAdjust="spacingAndGlyphs">Tumor area (mm<tspan font-size="4.8" dy="-2.8">2</tspan><tspan dy="2.8">)</tspan></text>
<path d="M269.4,454.8 H309.8 V477.9 H300.2" stroke="#222" stroke-width="0.9" fill="none"/>
<text transform="translate(316.3,465.4) rotate(-90)" font-size="6.2" font-weight="bold" fill="#222" stroke="#222" stroke-width="0.5" text-anchor="middle" letter-spacing="0.7">**</text>
<path d="M296,466.7 H299.6 V477.9 H296" stroke="#222" stroke-width="0.9" fill="none"/>
<text transform="translate(304.4,472.7) rotate(-90)" font-size="6.2" font-weight="bold" fill="#222" stroke="#222" stroke-width="0.5" text-anchor="middle">*</text>
<path d="M508.8,446.2 H515.6 V474 H508.8" stroke="#222" stroke-width="0.9" fill="none"/>
<text transform="translate(520.5,460.8) rotate(-90)" font-size="6.2" font-weight="bold" fill="#222" stroke="#222" stroke-width="0.5" text-anchor="middle" letter-spacing="0.7">****</text>
<path d="M495,460.6 H504 V473.7 H500" stroke="#222" stroke-width="0.9" fill="none"/>
<text transform="translate(509.8,466.8) rotate(-90)" font-size="6.6" font-weight="normal" fill="#222" stroke="#222" stroke-width="0.3" text-anchor="middle">ns</text>
<text x="0.3" y="530.7" font-size="12.6" font-weight="bold" fill="#111" stroke="#111" stroke-width="0.28" text-anchor="start" >D</text>
<line x1="18.75" y1="540" x2="29.5" y2="540" stroke="#111111" stroke-width="1.7"/>
<circle cx="24.12" cy="540.00" r="2.2" fill="#111111"/>
<text x="34.5" y="542.6" font-size="8.1" font-weight="normal" fill="#3a3a3a" stroke="#3a3a3a" stroke-width="0.30" text-anchor="start" textLength="35.5" lengthAdjust="spacingAndGlyphs" >Luc + IgG</text>
<line x1="18.75" y1="554.5" x2="29.5" y2="554.5" stroke="#858585" stroke-width="1.7"/>
<rect x="22.14" y="552.52" width="3.96" height="3.96" fill="#858585"/>
<text x="34.5" y="557.1" font-size="8.1" font-weight="normal" fill="#3a3a3a" stroke="#3a3a3a" stroke-width="0.30" text-anchor="start" textLength="46" lengthAdjust="spacingAndGlyphs" >Luc + αPD-1</text>
<line x1="18.75" y1="568.75" x2="29.5" y2="568.75" stroke="#1d5f76" stroke-width="1.7"/>
<path d="M24.12,566.22 L26.44,570.51 L21.81,570.51 Z" fill="#1d5f76"/>
<text x="33.9" y="571.35" font-size="8.1" font-weight="normal" fill="#3a3a3a" stroke="#3a3a3a" stroke-width="0.30" text-anchor="start" textLength="71.2" lengthAdjust="spacingAndGlyphs" >IL12 + DR-18 + IgG</text>
<line x1="18.75" y1="583" x2="29.5" y2="583" stroke="#3cbe97" stroke-width="1.7"/>
<path d="M24.12,585.53 L26.44,581.24 L21.81,581.24 Z" fill="#3cbe97"/>
<text x="33.9" y="585.6" font-size="8.1" font-weight="normal" fill="#3a3a3a" stroke="#3a3a3a" stroke-width="0.30" text-anchor="start" textLength="81.2" lengthAdjust="spacingAndGlyphs" >IL12 + DR-18 + αPD-1</text>
<path d="M150.40,543.00 H225.15 V543.00 H225.15 V562.19 H231.65 V562.19 H231.65 V582.36 H280.40 V582.36" stroke="#3cbe97" stroke-width="1.5" fill="none"/>
<path d="M225.15,564.72 L227.46,560.43 L222.84,560.43 Z" fill="#3cbe97"/>
<path d="M231.65,584.89 L233.96,580.60 L229.34,580.60 Z" fill="#3cbe97"/>
<path d="M280.40,584.89 L282.71,580.60 L278.09,580.60 Z" fill="#3cbe97"/>
<path d="M150.40,543.00 H195.90 V543.00 H195.90 V559.73 H207.28 V559.73 H207.28 V576.46 H220.28 V576.46 H220.28 V608.93 H225.15 V608.93 H225.15 V625.16 H280.40 V625.16" stroke="#1d5f76" stroke-width="1.5" fill="none"/>
<path d="M195.90,557.20 L198.21,561.49 L193.59,561.49 Z" fill="#1d5f76"/>
<path d="M207.28,573.93 L209.59,578.22 L204.97,578.22 Z" fill="#1d5f76"/>
<path d="M220.28,606.40 L222.59,610.69 L217.97,610.69 Z" fill="#1d5f76"/>
<path d="M225.15,622.63 L227.46,626.92 L222.84,626.92 Z" fill="#1d5f76"/>
<path d="M280.40,622.63 L282.71,626.92 L278.09,626.92 Z" fill="#1d5f76"/>
<path d="M150.40,543.00 H184.53 V543.00 H184.53 V559.73 H200.78 V559.73 H200.78 V575.96 H207.28 V575.96 H207.28 V592.20 H220.28 V592.20 H220.28 V625.16 H257.65 V625.16 H257.65 V641.40" stroke="#858585" stroke-width="1.5" fill="none"/>
<rect x="182.55" y="557.75" width="3.96" height="3.96" fill="#858585"/>
<rect x="198.80" y="573.98" width="3.96" height="3.96" fill="#858585"/>
<rect x="205.30" y="590.22" width="3.96" height="3.96" fill="#858585"/>
<rect x="218.30" y="623.18" width="3.96" height="3.96" fill="#858585"/>
<rect x="255.67" y="639.42" width="3.96" height="3.96" fill="#858585"/>
<path d="M150.40,543.00 H174.78 V543.00 H174.78 V575.96 H178.03 V575.96 H178.03 V608.93 H184.53 V608.93 H184.53 V641.40" stroke="#111111" stroke-width="1.5" fill="none"/>
<circle cx="174.78" cy="575.96" r="2.2" fill="#111111"/>
<circle cx="178.03" cy="608.93" r="2.2" fill="#111111"/>
<circle cx="184.53" cy="641.40" r="2.2" fill="#111111"/>
<path d="M150.4,533.7 V641.4 H313.5" stroke="#1a1a1a" stroke-width="1.3" fill="none"/>
<line x1="150.40" y1="641.4" x2="150.40" y2="645.4" stroke="#1a1a1a" stroke-width="1.2"/>
<text x="150.40" y="654.5" font-size="7.3" font-weight="bold" fill="#222" stroke="#222" stroke-width="0.26" text-anchor="middle" >0</text>
<line x1="182.90" y1="641.4" x2="182.90" y2="645.4" stroke="#1a1a1a" stroke-width="1.2"/>
<text x="182.90" y="654.5" font-size="7.3" font-weight="bold" fill="#222" stroke="#222" stroke-width="0.26" text-anchor="middle" >20</text>
<line x1="215.40" y1="641.4" x2="215.40" y2="645.4" stroke="#1a1a1a" stroke-width="1.2"/>
<text x="215.40" y="654.5" font-size="7.3" font-weight="bold" fill="#222" stroke="#222" stroke-width="0.26" text-anchor="middle" >40</text>
<line x1="247.90" y1="641.4" x2="247.90" y2="645.4" stroke="#1a1a1a" stroke-width="1.2"/>
<text x="247.90" y="654.5" font-size="7.3" font-weight="bold" fill="#222" stroke="#222" stroke-width="0.26" text-anchor="middle" >60</text>
<line x1="280.40" y1="641.4" x2="280.40" y2="645.4" stroke="#1a1a1a" stroke-width="1.2"/>
<text x="280.40" y="654.5" font-size="7.3" font-weight="bold" fill="#222" stroke="#222" stroke-width="0.26" text-anchor="middle" >80</text>
<line x1="312.90" y1="641.4" x2="312.90" y2="645.4" stroke="#1a1a1a" stroke-width="1.2"/>
<text x="312.90" y="654.5" font-size="7.3" font-weight="bold" fill="#222" stroke="#222" stroke-width="0.26" text-anchor="middle" >100</text>
<line x1="145.9" y1="641.40" x2="150.4" y2="641.40" stroke="#1a1a1a" stroke-width="1.2"/>
<text x="145.20000000000002" y="644.00" font-size="7.3" font-weight="bold" fill="#222" stroke="#222" stroke-width="0.26" text-anchor="end" >0</text>
<line x1="145.9" y1="592.20" x2="150.4" y2="592.20" stroke="#1a1a1a" stroke-width="1.2"/>
<text x="145.20000000000002" y="594.80" font-size="7.3" font-weight="bold" fill="#222" stroke="#222" stroke-width="0.26" text-anchor="end" >50</text>
<line x1="145.9" y1="543.00" x2="150.4" y2="543.00" stroke="#1a1a1a" stroke-width="1.2"/>
<text x="145.20000000000002" y="545.60" font-size="7.3" font-weight="bold" fill="#222" stroke="#222" stroke-width="0.26" text-anchor="end" >100</text>
<text x="157.5" y="668.3" font-size="8.5" font-weight="bold" fill="#3a3a3a" stroke="#3a3a3a" stroke-width="0.28" text-anchor="start" textLength="148" lengthAdjust="spacingAndGlyphs" >Days post B16OVA s.c. implantation</text>
<text transform="translate(125.2,588) rotate(-90)" font-size="8.2" font-weight="bold" fill="#3a3a3a" stroke="#3a3a3a" stroke-width="0.35" text-anchor="middle" textLength="66" lengthAdjust="spacingAndGlyphs">Percent survival</text>
<path d="M287.5,581.3 H293.8 V626.2 H287.5" stroke="#222" stroke-width="0.9" fill="none"/>
<text transform="translate(294.7,604.4) rotate(90)" font-size="5.4" font-weight="normal" fill="#222" stroke="#222" stroke-width="0.3" text-anchor="middle">p 0.05</text>
<path d="M302.5,581.3 H309.5 V632 H272.5" stroke="#222" stroke-width="0.9" fill="none"/>
<text transform="translate(312,605.6) rotate(90)" font-size="5.4" font-weight="normal" fill="#222" stroke="#222" stroke-width="0.3" text-anchor="middle">p 0.01</text>
</svg></body></html>
